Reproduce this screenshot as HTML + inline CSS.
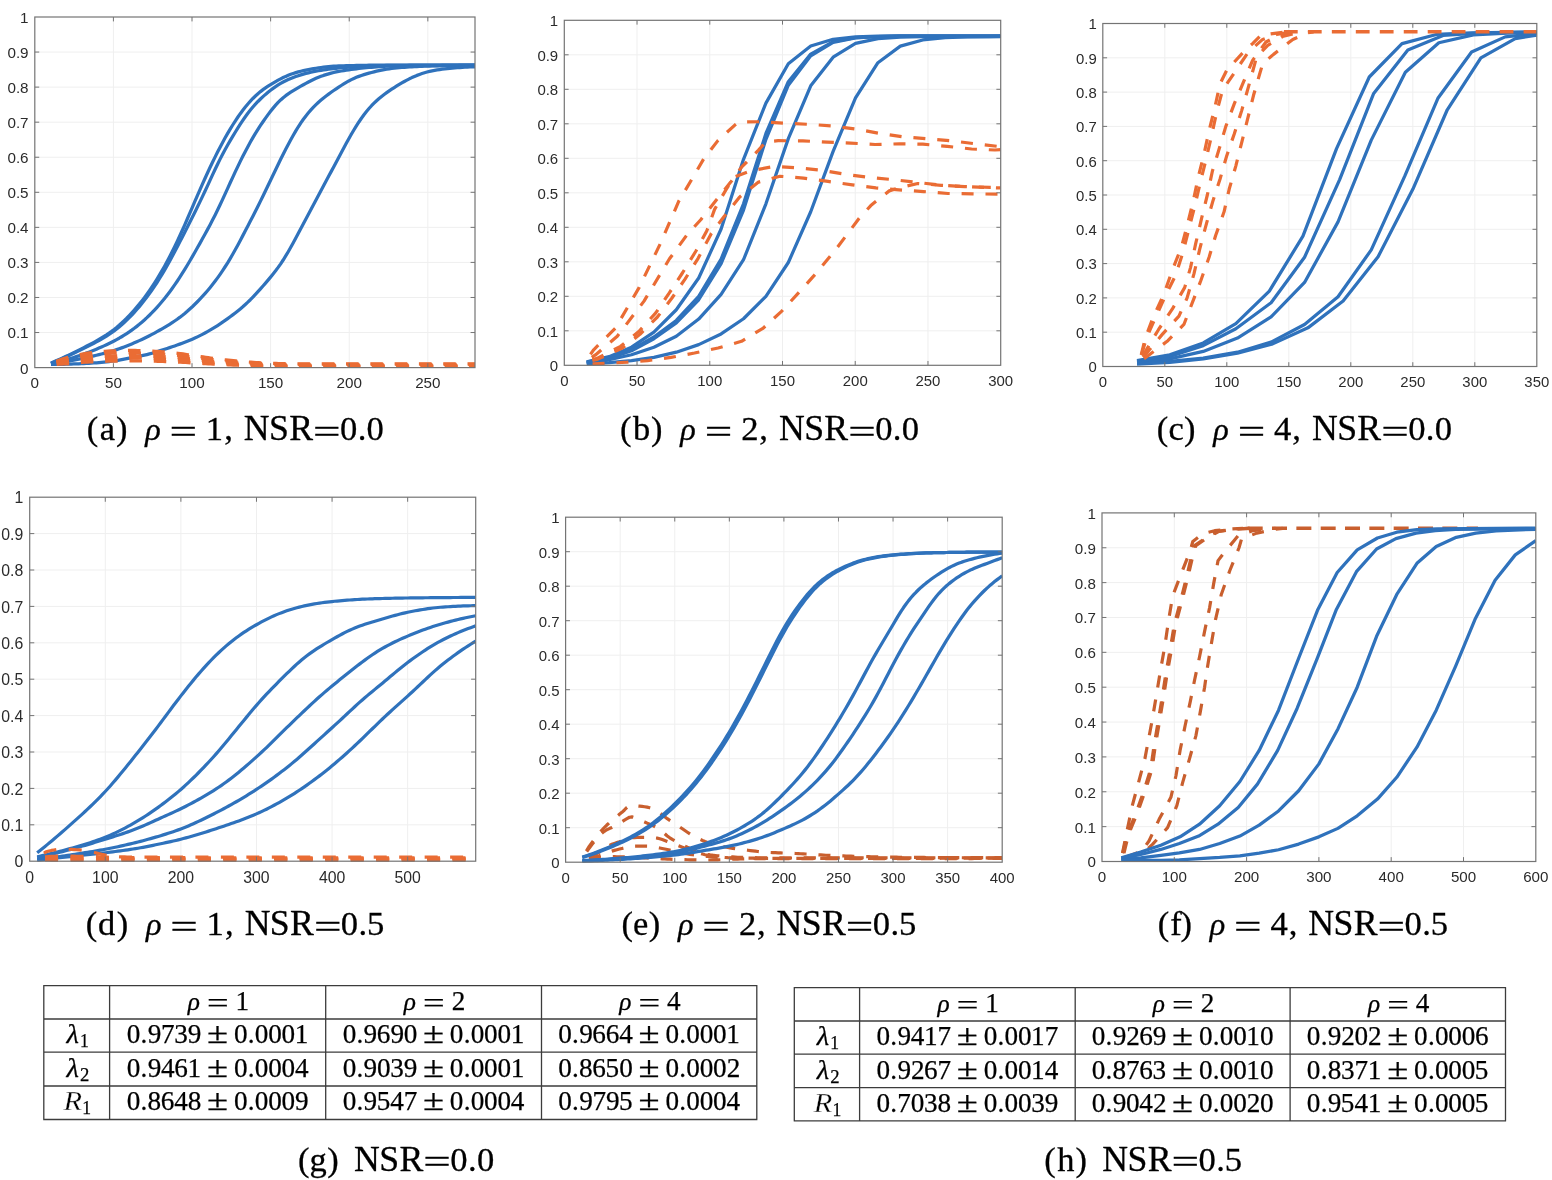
<!DOCTYPE html>
<html lang="en">
<head>
<meta charset="utf-8">
<style>
html,body{margin:0;padding:0;background:#fff;}
body{width:1552px;height:1180px;overflow:hidden;}
svg{display:block;}
text{white-space:pre;}
</style>
</head>
<body>
<svg width="1552" height="1180" viewBox="0 0 1552 1180">
<defs><clipPath id="clipa"><rect x="34.8" y="16" width="440.2" height="352.6"/></clipPath><clipPath id="clipb"><rect x="564.3" y="19.3" width="436.4" height="347"/></clipPath><clipPath id="clipc"><rect x="1102.8" y="22.5" width="434" height="345"/></clipPath><clipPath id="clipd"><rect x="29.7" y="496.2" width="446" height="366"/></clipPath><clipPath id="clipe"><rect x="565.6" y="516.2" width="436.6" height="347"/></clipPath><clipPath id="clipf"><rect x="1102" y="511.9" width="433.8" height="350.6"/></clipPath></defs>
<rect width="1552" height="1180" fill="#fff"/>
<g id="plot-a">
<path d="M113.41 17 V367.6 M192.01 17 V367.6 M270.62 17 V367.6 M349.23 17 V367.6 M427.84 17 V367.6 M34.8 332.54 H475 M34.8 297.48 H475 M34.8 262.42 H475 M34.8 227.36 H475 M34.8 192.3 H475 M34.8 157.24 H475 M34.8 122.18 H475 M34.8 87.12 H475 M34.8 52.06 H475" stroke="#efefef" stroke-width="1" fill="none"/>
<g clip-path="url(#clipa)">
<g fill="none" stroke="#2f72bc" stroke-width="3.25" stroke-linejoin="round"><path d="M50.99 363.04 L53.52 361.95 L56.04 360.86 L58.56 359.75 L61.09 358.62 L63.61 357.47 L66.14 356.3 L68.66 355.11 L71.18 353.9 L73.71 352.67 L76.23 351.43 L78.76 350.17 L81.28 348.9 L83.8 347.61 L86.33 346.31 L88.85 345 L91.37 343.67 L93.9 342.31 L96.42 340.92 L98.95 339.49 L101.47 338.01 L103.99 336.46 L106.52 334.85 L109.04 333.15 L111.57 331.36 L114.09 329.46 L116.61 327.43 L119.14 325.29 L121.66 323.03 L124.18 320.65 L126.71 318.17 L129.23 315.58 L131.76 312.89 L134.28 310.09 L136.8 307.17 L139.33 304.13 L141.85 300.96 L144.38 297.67 L146.9 294.24 L149.42 290.68 L151.95 286.97 L154.47 283.12 L156.99 279.12 L159.52 274.97 L162.04 270.66 L164.57 266.2 L167.09 261.58 L169.61 256.79 L172.14 251.84 L174.66 246.73 L177.19 241.47 L179.71 236.05 L182.23 230.48 L184.76 224.79 L187.28 218.99 L189.8 213.14 L192.33 207.27 L194.85 201.4 L197.38 195.57 L199.9 189.79 L202.42 184.08 L204.95 178.46 L207.47 172.95 L210 167.55 L212.52 162.27 L215.04 157.12 L217.57 152.09 L220.09 147.2 L222.61 142.44 L225.14 137.84 L227.66 133.39 L230.19 129.11 L232.71 124.99 L235.23 121.04 L237.76 117.27 L240.28 113.68 L242.81 110.27 L245.33 107.05 L247.85 104.01 L250.38 101.16 L252.9 98.49 L255.42 96.01 L257.95 93.72 L260.47 91.61 L263 89.66 L265.52 87.86 L268.04 86.18 L270.57 84.58 L273.09 83.06 L275.62 81.6 L278.14 80.19 L280.66 78.84 L283.19 77.57 L285.71 76.39 L288.24 75.3 L290.76 74.32 L293.28 73.43 L295.81 72.63 L298.33 71.91 L300.85 71.26 L303.38 70.67 L305.9 70.12 L308.43 69.61 L310.95 69.13 L313.47 68.68 L316 68.26 L318.52 67.86 L321.05 67.49 L323.57 67.16 L326.09 66.86 L328.62 66.61 L331.14 66.4 L333.66 66.23 L336.19 66.09 L338.71 65.98 L341.24 65.88 L343.76 65.79 L346.28 65.72 L348.81 65.64 L351.33 65.57 L353.86 65.51 L356.38 65.45 L358.9 65.39 L361.43 65.34 L363.95 65.29 L366.47 65.25 L369 65.21 L371.52 65.17 L374.05 65.14 L376.57 65.11 L379.09 65.09 L381.62 65.07 L384.14 65.06 L386.67 65.05 L389.19 65.04 L391.71 65.04 L394.24 65.03 L396.76 65.03 L399.28 65.03 L401.81 65.03 L404.33 65.03 L406.86 65.03 L409.38 65.03 L411.9 65.03 L414.43 65.03 L416.95 65.03 L419.48 65.03 L422 65.03 L424.52 65.03 L427.05 65.03 L429.57 65.03 L432.09 65.03 L434.62 65.03 L437.14 65.03 L439.67 65.03 L442.19 65.03 L444.71 65.03 L447.24 65.03 L449.76 65.03 L452.29 65.03 L454.81 65.03 L457.33 65.03 L459.86 65.03 L462.38 65.03 L464.9 65.03 L467.43 65.03 L469.95 65.03 L472.48 65.03 L475 65.03"/><path d="M50.99 363.39 L53.52 362.33 L56.04 361.25 L58.56 360.17 L61.09 359.06 L63.61 357.94 L66.14 356.8 L68.66 355.65 L71.18 354.47 L73.71 353.28 L76.23 352.07 L78.76 350.85 L81.28 349.62 L83.8 348.37 L86.33 347.12 L88.85 345.86 L91.37 344.58 L93.9 343.27 L96.42 341.93 L98.95 340.56 L101.47 339.13 L103.99 337.65 L106.52 336.1 L109.04 334.48 L111.57 332.75 L114.09 330.93 L116.61 328.99 L119.14 326.94 L121.66 324.77 L124.18 322.49 L126.71 320.11 L129.23 317.62 L131.76 315.03 L134.28 312.33 L136.8 309.52 L139.33 306.58 L141.85 303.53 L144.38 300.35 L146.9 297.04 L149.42 293.61 L151.95 290.04 L154.47 286.33 L156.99 282.49 L159.52 278.5 L162.04 274.38 L164.57 270.12 L167.09 265.72 L169.61 261.19 L172.14 256.54 L174.66 251.79 L177.19 246.98 L179.71 242.11 L182.23 237.22 L184.76 232.29 L187.28 227.33 L189.8 222.34 L192.33 217.3 L194.85 212.21 L197.38 207.07 L199.9 201.86 L202.42 196.59 L204.95 191.24 L207.47 185.82 L210 180.35 L212.52 174.88 L215.04 169.48 L217.57 164.21 L220.09 159.12 L222.61 154.24 L225.14 149.55 L227.66 145.04 L230.19 140.66 L232.71 136.4 L235.23 132.24 L237.76 128.17 L240.28 124.22 L242.81 120.4 L245.33 116.74 L247.85 113.28 L250.38 110.03 L252.9 106.98 L255.42 104.14 L257.95 101.48 L260.47 98.98 L263 96.62 L265.52 94.39 L268.04 92.28 L270.57 90.27 L273.09 88.39 L275.62 86.62 L278.14 84.97 L280.66 83.45 L283.19 82.04 L285.71 80.75 L288.24 79.56 L290.76 78.47 L293.28 77.46 L295.81 76.53 L298.33 75.67 L300.85 74.87 L303.38 74.12 L305.9 73.44 L308.43 72.8 L310.95 72.22 L313.47 71.69 L316 71.2 L318.52 70.75 L321.05 70.33 L323.57 69.93 L326.09 69.55 L328.62 69.2 L331.14 68.87 L333.66 68.56 L336.19 68.27 L338.71 68 L341.24 67.75 L343.76 67.53 L346.28 67.33 L348.81 67.14 L351.33 66.97 L353.86 66.81 L356.38 66.65 L358.9 66.51 L361.43 66.37 L363.95 66.24 L366.47 66.12 L369 66 L371.52 65.89 L374.05 65.79 L376.57 65.7 L379.09 65.63 L381.62 65.56 L384.14 65.5 L386.67 65.45 L389.19 65.41 L391.71 65.38 L394.24 65.36 L396.76 65.33 L399.28 65.31 L401.81 65.29 L404.33 65.28 L406.86 65.26 L409.38 65.24 L411.9 65.23 L414.43 65.21 L416.95 65.2 L419.48 65.18 L422 65.17 L424.52 65.16 L427.05 65.15 L429.57 65.13 L432.09 65.12 L434.62 65.11 L437.14 65.1 L439.67 65.09 L442.19 65.09 L444.71 65.08 L447.24 65.07 L449.76 65.06 L452.29 65.06 L454.81 65.05 L457.33 65.05 L459.86 65.04 L462.38 65.04 L464.9 65.04 L467.43 65.04 L469.95 65.03 L472.48 65.03 L475 65.03"/><path d="M50.99 363.74 L53.52 363.12 L56.04 362.49 L58.56 361.85 L61.09 361.18 L63.61 360.48 L66.14 359.76 L68.66 359.02 L71.18 358.26 L73.71 357.47 L76.23 356.65 L78.76 355.82 L81.28 354.95 L83.8 354.07 L86.33 353.15 L88.85 352.2 L91.37 351.23 L93.9 350.22 L96.42 349.18 L98.95 348.11 L101.47 347.01 L103.99 345.88 L106.52 344.71 L109.04 343.5 L111.57 342.25 L114.09 340.96 L116.61 339.61 L119.14 338.21 L121.66 336.74 L124.18 335.21 L126.71 333.6 L129.23 331.92 L131.76 330.15 L134.28 328.3 L136.8 326.35 L139.33 324.31 L141.85 322.18 L144.38 319.96 L146.9 317.64 L149.42 315.21 L151.95 312.69 L154.47 310.06 L156.99 307.32 L159.52 304.47 L162.04 301.51 L164.57 298.43 L167.09 295.23 L169.61 291.91 L172.14 288.47 L174.66 284.9 L177.19 281.21 L179.71 277.41 L182.23 273.48 L184.76 269.43 L187.28 265.27 L189.8 261.01 L192.33 256.67 L194.85 252.27 L197.38 247.82 L199.9 243.34 L202.42 238.82 L204.95 234.26 L207.47 229.63 L210 224.93 L212.52 220.11 L215.04 215.17 L217.57 210.07 L220.09 204.81 L222.61 199.41 L225.14 193.9 L227.66 188.34 L230.19 182.8 L232.71 177.31 L235.23 171.9 L237.76 166.59 L240.28 161.39 L242.81 156.32 L245.33 151.4 L247.85 146.64 L250.38 142.05 L252.9 137.65 L255.42 133.42 L257.95 129.36 L260.47 125.47 L263 121.72 L265.52 118.11 L268.04 114.63 L270.57 111.3 L273.09 108.13 L275.62 105.16 L278.14 102.42 L280.66 99.92 L283.19 97.67 L285.71 95.65 L288.24 93.83 L290.76 92.15 L293.28 90.59 L295.81 89.09 L298.33 87.63 L300.85 86.19 L303.38 84.77 L305.9 83.37 L308.43 82.01 L310.95 80.71 L313.47 79.49 L316 78.35 L318.52 77.3 L321.05 76.32 L323.57 75.42 L326.09 74.6 L328.62 73.84 L331.14 73.15 L333.66 72.53 L336.19 71.96 L338.71 71.45 L341.24 70.98 L343.76 70.55 L346.28 70.15 L348.81 69.77 L351.33 69.42 L353.86 69.09 L356.38 68.78 L358.9 68.49 L361.43 68.22 L363.95 67.96 L366.47 67.72 L369 67.48 L371.52 67.26 L374.05 67.04 L376.57 66.85 L379.09 66.67 L381.62 66.51 L384.14 66.37 L386.67 66.25 L389.19 66.16 L391.71 66.09 L394.24 66.03 L396.76 65.98 L399.28 65.94 L401.81 65.9 L404.33 65.87 L406.86 65.83 L409.38 65.8 L411.9 65.77 L414.43 65.73 L416.95 65.71 L419.48 65.68 L422 65.65 L424.52 65.63 L427.05 65.6 L429.57 65.58 L432.09 65.56 L434.62 65.54 L437.14 65.52 L439.67 65.5 L442.19 65.49 L444.71 65.47 L447.24 65.46 L449.76 65.44 L452.29 65.43 L454.81 65.42 L457.33 65.41 L459.86 65.41 L462.38 65.4 L464.9 65.4 L467.43 65.39 L469.95 65.39 L472.48 65.38 L475 65.38"/><path d="M50.99 364.09 L53.52 363.69 L56.04 363.28 L58.56 362.87 L61.09 362.44 L63.61 362.01 L66.14 361.56 L68.66 361.1 L71.18 360.63 L73.71 360.14 L76.23 359.65 L78.76 359.14 L81.28 358.63 L83.8 358.1 L86.33 357.56 L88.85 357.01 L91.37 356.45 L93.9 355.87 L96.42 355.27 L98.95 354.66 L101.47 354.02 L103.99 353.37 L106.52 352.69 L109.04 351.98 L111.57 351.24 L114.09 350.46 L116.61 349.64 L119.14 348.78 L121.66 347.88 L124.18 346.95 L126.71 345.98 L129.23 344.98 L131.76 343.94 L134.28 342.87 L136.8 341.77 L139.33 340.64 L141.85 339.47 L144.38 338.26 L146.9 337.02 L149.42 335.74 L151.95 334.43 L154.47 333.08 L156.99 331.69 L159.52 330.27 L162.04 328.82 L164.57 327.34 L167.09 325.82 L169.61 324.27 L172.14 322.66 L174.66 321 L177.19 319.26 L179.71 317.43 L182.23 315.5 L184.76 313.47 L187.28 311.32 L189.8 309.07 L192.33 306.73 L194.85 304.29 L197.38 301.77 L199.9 299.16 L202.42 296.46 L204.95 293.65 L207.47 290.75 L210 287.72 L212.52 284.58 L215.04 281.3 L217.57 277.88 L220.09 274.32 L222.61 270.62 L225.14 266.76 L227.66 262.76 L230.19 258.59 L232.71 254.27 L235.23 249.79 L237.76 245.17 L240.28 240.44 L242.81 235.63 L245.33 230.79 L247.85 225.93 L250.38 221.06 L252.9 216.17 L255.42 211.23 L257.95 206.22 L260.47 201.13 L263 195.97 L265.52 190.75 L268.04 185.5 L270.57 180.22 L273.09 174.94 L275.62 169.68 L278.14 164.45 L280.66 159.28 L283.19 154.21 L285.71 149.26 L288.24 144.43 L290.76 139.75 L293.28 135.23 L295.81 130.89 L298.33 126.77 L300.85 122.89 L303.38 119.27 L305.9 115.91 L308.43 112.79 L310.95 109.88 L313.47 107.17 L316 104.64 L318.52 102.27 L321.05 100.04 L323.57 97.95 L326.09 95.97 L328.62 94.09 L331.14 92.28 L333.66 90.53 L336.19 88.82 L338.71 87.15 L341.24 85.51 L343.76 83.92 L346.28 82.39 L348.81 80.95 L351.33 79.63 L353.86 78.42 L356.38 77.33 L358.9 76.36 L361.43 75.47 L363.95 74.65 L366.47 73.89 L369 73.17 L371.52 72.49 L374.05 71.83 L376.57 71.2 L379.09 70.62 L381.62 70.08 L384.14 69.6 L386.67 69.17 L389.19 68.8 L391.71 68.47 L394.24 68.19 L396.76 67.93 L399.28 67.7 L401.81 67.49 L404.33 67.29 L406.86 67.11 L409.38 66.94 L411.9 66.79 L414.43 66.65 L416.95 66.52 L419.48 66.4 L422 66.3 L424.52 66.21 L427.05 66.13 L429.57 66.06 L432.09 65.99 L434.62 65.93 L437.14 65.87 L439.67 65.82 L442.19 65.76 L444.71 65.71 L447.24 65.67 L449.76 65.62 L452.29 65.58 L454.81 65.55 L457.33 65.51 L459.86 65.48 L462.38 65.46 L464.9 65.44 L467.43 65.42 L469.95 65.4 L472.48 65.39 L475 65.38"/><path d="M50.99 364.44 L53.52 364.42 L56.04 364.39 L58.56 364.35 L61.09 364.31 L63.61 364.26 L66.14 364.19 L68.66 364.13 L71.18 364.05 L73.71 363.97 L76.23 363.88 L78.76 363.78 L81.28 363.68 L83.8 363.57 L86.33 363.44 L88.85 363.3 L91.37 363.14 L93.9 362.97 L96.42 362.78 L98.95 362.57 L101.47 362.35 L103.99 362.12 L106.52 361.86 L109.04 361.58 L111.57 361.26 L114.09 360.91 L116.61 360.52 L119.14 360.08 L121.66 359.61 L124.18 359.12 L126.71 358.62 L129.23 358.13 L131.76 357.64 L134.28 357.16 L136.8 356.68 L139.33 356.19 L141.85 355.69 L144.38 355.15 L146.9 354.56 L149.42 353.92 L151.95 353.23 L154.47 352.49 L156.99 351.71 L159.52 350.91 L162.04 350.09 L164.57 349.27 L167.09 348.44 L169.61 347.61 L172.14 346.77 L174.66 345.92 L177.19 345.05 L179.71 344.15 L182.23 343.22 L184.76 342.26 L187.28 341.27 L189.8 340.24 L192.33 339.16 L194.85 338.04 L197.38 336.87 L199.9 335.65 L202.42 334.37 L204.95 333.03 L207.47 331.64 L210 330.19 L212.52 328.7 L215.04 327.15 L217.57 325.55 L220.09 323.9 L222.61 322.2 L225.14 320.44 L227.66 318.64 L230.19 316.8 L232.71 314.9 L235.23 312.96 L237.76 310.96 L240.28 308.9 L242.81 306.75 L245.33 304.51 L247.85 302.17 L250.38 299.71 L252.9 297.14 L255.42 294.47 L257.95 291.71 L260.47 288.88 L263 286 L265.52 283.08 L268.04 280.12 L270.57 277.1 L273.09 274 L275.62 270.77 L278.14 267.39 L280.66 263.82 L283.19 260.02 L285.71 255.98 L288.24 251.72 L290.76 247.28 L293.28 242.68 L295.81 238 L298.33 233.27 L300.85 228.53 L303.38 223.78 L305.9 219.05 L308.43 214.32 L310.95 209.58 L313.47 204.84 L316 200.1 L318.52 195.35 L321.05 190.6 L323.57 185.85 L326.09 181.11 L328.62 176.36 L331.14 171.63 L333.66 166.9 L336.19 162.17 L338.71 157.45 L341.24 152.73 L343.76 148.02 L346.28 143.35 L348.81 138.75 L351.33 134.28 L353.86 129.97 L356.38 125.86 L358.9 121.97 L361.43 118.28 L363.95 114.82 L366.47 111.57 L369 108.53 L371.52 105.72 L374.05 103.12 L376.57 100.71 L379.09 98.5 L381.62 96.43 L384.14 94.49 L386.67 92.66 L389.19 90.91 L391.71 89.22 L394.24 87.58 L396.76 85.98 L399.28 84.43 L401.81 82.93 L404.33 81.49 L406.86 80.12 L409.38 78.82 L411.9 77.6 L414.43 76.46 L416.95 75.39 L419.48 74.41 L422 73.51 L424.52 72.7 L427.05 71.99 L429.57 71.37 L432.09 70.83 L434.62 70.36 L437.14 69.94 L439.67 69.56 L442.19 69.22 L444.71 68.92 L447.24 68.64 L449.76 68.39 L452.29 68.16 L454.81 67.94 L457.33 67.75 L459.86 67.56 L462.38 67.4 L464.9 67.24 L467.43 67.11 L469.95 66.99 L472.48 66.88 L475 66.79"/></g>
<g fill="none" stroke="#ea6c34" stroke-width="3.2" stroke-linejoin="round" stroke-dasharray="12.5 11.8" stroke-dashoffset="19.7"><path d="M52.09 363.04 L54.61 361.98 L57.13 360.96 L59.65 360 L62.16 359.1 L64.68 358.3 L67.2 357.58 L69.71 356.91 L72.23 356.26 L74.75 355.65 L77.27 355.07 L79.78 354.53 L82.3 354.03 L84.82 353.58 L87.34 353.18 L89.85 352.85 L92.37 352.55 L94.89 352.26 L97.4 351.99 L99.92 351.73 L102.44 351.5 L104.96 351.3 L107.47 351.12 L109.99 350.97 L112.51 350.86 L115.03 350.77 L117.54 350.69 L120.06 350.62 L122.58 350.55 L125.1 350.5 L127.61 350.45 L130.13 350.43 L132.65 350.42 L135.16 350.44 L137.68 350.49 L140.2 350.56 L142.72 350.65 L145.23 350.75 L147.75 350.86 L150.27 350.98 L152.79 351.1 L155.3 351.23 L157.82 351.39 L160.34 351.58 L162.85 351.79 L165.37 352.01 L167.89 352.25 L170.41 352.5 L172.92 352.76 L175.44 353.03 L177.96 353.31 L180.48 353.62 L182.99 353.96 L185.51 354.33 L188.03 354.71 L190.55 355.1 L193.06 355.49 L195.58 355.87 L198.1 356.24 L200.61 356.6 L203.13 356.94 L205.65 357.29 L208.17 357.64 L210.68 357.99 L213.2 358.33 L215.72 358.66 L218.24 358.98 L220.75 359.29 L223.27 359.58 L225.79 359.86 L228.3 360.14 L230.82 360.41 L233.34 360.67 L235.86 360.92 L238.37 361.17 L240.89 361.4 L243.41 361.61 L245.93 361.81 L248.44 361.99 L250.96 362.17 L253.48 362.35 L255.99 362.51 L258.51 362.67 L261.03 362.81 L263.55 362.95 L266.06 363.07 L268.58 363.17 L271.1 363.26 L273.62 363.34 L276.13 363.42 L278.65 363.5 L281.17 363.57 L283.69 363.64 L286.2 363.7 L288.72 363.76 L291.24 363.81 L293.75 363.85 L296.27 363.89 L298.79 363.91 L301.31 363.92 L303.82 363.92 L306.34 363.92 L308.86 363.92 L311.38 363.92 L313.89 363.92 L316.41 363.92 L318.93 363.92 L321.44 363.92 L323.96 363.92 L326.48 363.92 L329 363.92 L331.51 363.92 L334.03 363.92 L336.55 363.92 L339.07 363.92 L341.58 363.92 L344.1 363.92 L346.62 363.92 L349.13 363.92 L351.65 363.92 L354.17 363.92 L356.69 363.92 L359.2 363.92 L361.72 363.92 L364.24 363.92 L366.76 363.92 L369.27 363.92 L371.79 363.92 L374.31 363.92 L376.83 363.92 L379.34 363.92 L381.86 363.92 L384.38 363.92 L386.89 363.92 L389.41 363.92 L391.93 363.92 L394.45 363.92 L396.96 363.92 L399.48 363.92 L402 363.92 L404.52 363.92 L407.03 363.92 L409.55 363.92 L412.07 363.92 L414.58 363.92 L417.1 363.92 L419.62 363.92 L422.14 363.92 L424.65 363.92 L427.17 363.92 L429.69 363.92 L432.21 363.92 L434.72 363.92 L437.24 363.92 L439.76 363.92 L442.28 363.92 L444.79 363.92 L447.31 363.92 L449.83 363.92 L452.34 363.92 L454.86 363.92 L457.38 363.92 L459.9 363.92 L462.41 363.92 L464.93 363.92 L467.45 363.92 L469.97 363.92 L472.48 363.92 L475 363.92"/><path d="M52.09 363.39 L54.61 362.56 L57.13 361.75 L59.65 360.98 L62.16 360.27 L64.68 359.61 L67.2 359.02 L69.71 358.45 L72.23 357.91 L74.75 357.38 L77.27 356.88 L79.78 356.41 L82.3 355.98 L84.82 355.59 L87.34 355.25 L89.85 354.95 L92.37 354.7 L94.89 354.45 L97.4 354.22 L99.92 354 L102.44 353.8 L104.96 353.63 L107.47 353.47 L109.99 353.35 L112.51 353.25 L115.03 353.18 L117.54 353.11 L120.06 353.04 L122.58 352.99 L125.1 352.94 L127.61 352.9 L130.13 352.88 L132.65 352.88 L135.16 352.89 L137.68 352.93 L140.2 352.99 L142.72 353.07 L145.23 353.16 L147.75 353.25 L150.27 353.35 L152.79 353.46 L155.3 353.57 L157.82 353.71 L160.34 353.87 L162.85 354.04 L165.37 354.24 L167.89 354.44 L170.41 354.66 L172.92 354.88 L175.44 355.11 L177.96 355.35 L180.48 355.62 L182.99 355.91 L185.51 356.23 L188.03 356.55 L190.55 356.89 L193.06 357.22 L195.58 357.55 L198.1 357.87 L200.61 358.17 L203.13 358.47 L205.65 358.77 L208.17 359.07 L210.68 359.36 L213.2 359.65 L215.72 359.94 L218.24 360.21 L220.75 360.47 L223.27 360.72 L225.79 360.96 L228.3 361.2 L230.82 361.43 L233.34 361.66 L235.86 361.88 L238.37 362.09 L240.89 362.28 L243.41 362.47 L245.93 362.64 L248.44 362.8 L250.96 362.95 L253.48 363.1 L255.99 363.24 L258.51 363.37 L261.03 363.5 L263.55 363.61 L266.06 363.72 L268.58 363.81 L271.1 363.88 L273.62 363.95 L276.13 364.02 L278.65 364.08 L281.17 364.15 L283.69 364.2 L286.2 364.26 L288.72 364.31 L291.24 364.35 L293.75 364.39 L296.27 364.42 L298.79 364.44 L301.31 364.44 L303.82 364.44 L306.34 364.44 L308.86 364.44 L311.38 364.44 L313.89 364.44 L316.41 364.44 L318.93 364.44 L321.44 364.44 L323.96 364.44 L326.48 364.44 L329 364.44 L331.51 364.44 L334.03 364.44 L336.55 364.44 L339.07 364.44 L341.58 364.44 L344.1 364.44 L346.62 364.44 L349.13 364.44 L351.65 364.44 L354.17 364.44 L356.69 364.44 L359.2 364.44 L361.72 364.44 L364.24 364.44 L366.76 364.44 L369.27 364.44 L371.79 364.44 L374.31 364.44 L376.83 364.44 L379.34 364.44 L381.86 364.44 L384.38 364.44 L386.89 364.44 L389.41 364.44 L391.93 364.44 L394.45 364.44 L396.96 364.44 L399.48 364.44 L402 364.44 L404.52 364.44 L407.03 364.44 L409.55 364.44 L412.07 364.44 L414.58 364.44 L417.1 364.44 L419.62 364.44 L422.14 364.44 L424.65 364.44 L427.17 364.44 L429.69 364.44 L432.21 364.44 L434.72 364.44 L437.24 364.44 L439.76 364.44 L442.28 364.44 L444.79 364.44 L447.31 364.44 L449.83 364.44 L452.34 364.44 L454.86 364.44 L457.38 364.44 L459.9 364.44 L462.41 364.44 L464.93 364.44 L467.45 364.44 L469.97 364.44 L472.48 364.44 L475 364.44"/><path d="M52.09 363.74 L54.61 363.19 L57.13 362.65 L59.65 362.13 L62.16 361.63 L64.68 361.16 L67.2 360.72 L69.71 360.28 L72.23 359.84 L74.75 359.41 L77.27 359 L79.78 358.61 L82.3 358.24 L84.82 357.91 L87.34 357.62 L89.85 357.38 L92.37 357.17 L94.89 356.97 L97.4 356.78 L99.92 356.6 L102.44 356.44 L104.96 356.3 L107.47 356.17 L109.99 356.07 L112.51 355.99 L115.03 355.93 L117.54 355.87 L120.06 355.82 L122.58 355.77 L125.1 355.73 L127.61 355.7 L130.13 355.68 L132.65 355.68 L135.16 355.69 L137.68 355.73 L140.2 355.78 L142.72 355.84 L145.23 355.91 L147.75 355.99 L150.27 356.07 L152.79 356.16 L155.3 356.25 L157.82 356.36 L160.34 356.49 L162.85 356.64 L165.37 356.79 L167.89 356.96 L170.41 357.14 L172.92 357.32 L175.44 357.51 L177.96 357.7 L180.48 357.92 L182.99 358.16 L185.51 358.42 L188.03 358.69 L190.55 358.96 L193.06 359.24 L195.58 359.5 L198.1 359.76 L200.61 360.01 L203.13 360.25 L205.65 360.5 L208.17 360.74 L210.68 360.99 L213.2 361.22 L215.72 361.46 L218.24 361.68 L220.75 361.9 L223.27 362.1 L225.79 362.3 L228.3 362.49 L230.82 362.68 L233.34 362.87 L235.86 363.05 L238.37 363.22 L240.89 363.38 L243.41 363.53 L245.93 363.67 L248.44 363.8 L250.96 363.92 L253.48 364.04 L255.99 364.16 L258.51 364.27 L261.03 364.37 L263.55 364.47 L266.06 364.55 L268.58 364.62 L271.1 364.68 L273.62 364.74 L276.13 364.79 L278.65 364.85 L281.17 364.9 L283.69 364.95 L286.2 364.99 L288.72 365.04 L291.24 365.07 L293.75 365.1 L296.27 365.12 L298.79 365.14 L301.31 365.15 L303.82 365.15 L306.34 365.15 L308.86 365.15 L311.38 365.15 L313.89 365.15 L316.41 365.15 L318.93 365.15 L321.44 365.15 L323.96 365.15 L326.48 365.15 L329 365.15 L331.51 365.15 L334.03 365.15 L336.55 365.15 L339.07 365.15 L341.58 365.15 L344.1 365.15 L346.62 365.15 L349.13 365.15 L351.65 365.15 L354.17 365.15 L356.69 365.15 L359.2 365.15 L361.72 365.15 L364.24 365.15 L366.76 365.15 L369.27 365.15 L371.79 365.15 L374.31 365.15 L376.83 365.15 L379.34 365.15 L381.86 365.15 L384.38 365.15 L386.89 365.15 L389.41 365.15 L391.93 365.15 L394.45 365.15 L396.96 365.15 L399.48 365.15 L402 365.15 L404.52 365.15 L407.03 365.15 L409.55 365.15 L412.07 365.15 L414.58 365.15 L417.1 365.15 L419.62 365.15 L422.14 365.15 L424.65 365.15 L427.17 365.15 L429.69 365.15 L432.21 365.15 L434.72 365.15 L437.24 365.15 L439.76 365.15 L442.28 365.15 L444.79 365.15 L447.31 365.15 L449.83 365.15 L452.34 365.15 L454.86 365.15 L457.38 365.15 L459.9 365.15 L462.41 365.15 L464.93 365.15 L467.45 365.15 L469.97 365.15 L472.48 365.15 L475 365.15"/><path d="M52.09 364.09 L54.61 363.79 L57.13 363.48 L59.65 363.18 L62.16 362.87 L64.68 362.57 L67.2 362.26 L69.71 361.93 L72.23 361.59 L74.75 361.25 L77.27 360.9 L79.78 360.57 L82.3 360.25 L84.82 359.97 L87.34 359.72 L89.85 359.52 L92.37 359.35 L94.89 359.18 L97.4 359.03 L99.92 358.88 L102.44 358.75 L104.96 358.64 L107.47 358.53 L109.99 358.45 L112.51 358.38 L115.03 358.33 L117.54 358.29 L120.06 358.25 L122.58 358.21 L125.1 358.18 L127.61 358.15 L130.13 358.14 L132.65 358.13 L135.16 358.15 L137.68 358.17 L140.2 358.21 L142.72 358.26 L145.23 358.32 L147.75 358.39 L150.27 358.45 L152.79 358.52 L155.3 358.6 L157.82 358.69 L160.34 358.8 L162.85 358.91 L165.37 359.04 L167.89 359.18 L170.41 359.32 L172.92 359.47 L175.44 359.62 L177.96 359.78 L180.48 359.96 L182.99 360.16 L185.51 360.37 L188.03 360.59 L190.55 360.81 L193.06 361.03 L195.58 361.25 L198.1 361.46 L200.61 361.66 L203.13 361.86 L205.65 362.06 L208.17 362.26 L210.68 362.46 L213.2 362.65 L215.72 362.84 L218.24 363.02 L220.75 363.2 L223.27 363.37 L225.79 363.53 L228.3 363.69 L230.82 363.84 L233.34 363.99 L235.86 364.14 L238.37 364.27 L240.89 364.41 L243.41 364.53 L245.93 364.64 L248.44 364.75 L250.96 364.85 L253.48 364.95 L255.99 365.04 L258.51 365.13 L261.03 365.22 L263.55 365.29 L266.06 365.36 L268.58 365.42 L271.1 365.47 L273.62 365.52 L276.13 365.56 L278.65 365.61 L281.17 365.65 L283.69 365.69 L286.2 365.72 L288.72 365.76 L291.24 365.79 L293.75 365.81 L296.27 365.83 L298.79 365.84 L301.31 365.85 L303.82 365.85 L306.34 365.85 L308.86 365.85 L311.38 365.85 L313.89 365.85 L316.41 365.85 L318.93 365.85 L321.44 365.85 L323.96 365.85 L326.48 365.85 L329 365.85 L331.51 365.85 L334.03 365.85 L336.55 365.85 L339.07 365.85 L341.58 365.85 L344.1 365.85 L346.62 365.85 L349.13 365.85 L351.65 365.85 L354.17 365.85 L356.69 365.85 L359.2 365.85 L361.72 365.85 L364.24 365.85 L366.76 365.85 L369.27 365.85 L371.79 365.85 L374.31 365.85 L376.83 365.85 L379.34 365.85 L381.86 365.85 L384.38 365.85 L386.89 365.85 L389.41 365.85 L391.93 365.85 L394.45 365.85 L396.96 365.85 L399.48 365.85 L402 365.85 L404.52 365.85 L407.03 365.85 L409.55 365.85 L412.07 365.85 L414.58 365.85 L417.1 365.85 L419.62 365.85 L422.14 365.85 L424.65 365.85 L427.17 365.85 L429.69 365.85 L432.21 365.85 L434.72 365.85 L437.24 365.85 L439.76 365.85 L442.28 365.85 L444.79 365.85 L447.31 365.85 L449.83 365.85 L452.34 365.85 L454.86 365.85 L457.38 365.85 L459.9 365.85 L462.41 365.85 L464.93 365.85 L467.45 365.85 L469.97 365.85 L472.48 365.85 L475 365.85"/><path d="M52.09 364.44 L54.61 364.39 L57.13 364.31 L59.65 364.22 L62.16 364.12 L64.68 364 L67.2 363.88 L69.71 363.71 L72.23 363.5 L74.75 363.26 L77.27 363 L79.78 362.74 L82.3 362.49 L84.82 362.26 L87.34 362.07 L89.85 361.92 L92.37 361.79 L94.89 361.68 L97.4 361.57 L99.92 361.47 L102.44 361.37 L104.96 361.29 L107.47 361.22 L109.99 361.16 L112.51 361.11 L115.03 361.08 L117.54 361.05 L120.06 361.02 L122.58 360.99 L125.1 360.97 L127.61 360.95 L130.13 360.94 L132.65 360.94 L135.16 360.95 L137.68 360.97 L140.2 360.99 L142.72 361.03 L145.23 361.07 L147.75 361.12 L150.27 361.16 L152.79 361.21 L155.3 361.27 L157.82 361.33 L160.34 361.41 L162.85 361.49 L165.37 361.58 L167.89 361.67 L170.41 361.78 L172.92 361.88 L175.44 361.99 L177.96 362.1 L180.48 362.23 L182.99 362.37 L185.51 362.51 L188.03 362.67 L190.55 362.82 L193.06 362.98 L195.58 363.13 L198.1 363.28 L200.61 363.42 L203.13 363.57 L205.65 363.71 L208.17 363.85 L210.68 363.99 L213.2 364.12 L215.72 364.26 L218.24 364.38 L220.75 364.51 L223.27 364.63 L225.79 364.74 L228.3 364.85 L230.82 364.96 L233.34 365.07 L235.86 365.17 L238.37 365.27 L240.89 365.36 L243.41 365.44 L245.93 365.52 L248.44 365.6 L250.96 365.67 L253.48 365.74 L255.99 365.81 L258.51 365.87 L261.03 365.93 L263.55 365.98 L266.06 366.03 L268.58 366.07 L271.1 366.11 L273.62 366.14 L276.13 366.17 L278.65 366.2 L281.17 366.23 L283.69 366.26 L286.2 366.29 L288.72 366.31 L291.24 366.33 L293.75 366.35 L296.27 366.36 L298.79 366.37 L301.31 366.37 L303.82 366.37 L306.34 366.37 L308.86 366.37 L311.38 366.37 L313.89 366.37 L316.41 366.37 L318.93 366.37 L321.44 366.37 L323.96 366.37 L326.48 366.37 L329 366.37 L331.51 366.37 L334.03 366.37 L336.55 366.37 L339.07 366.37 L341.58 366.37 L344.1 366.37 L346.62 366.37 L349.13 366.37 L351.65 366.37 L354.17 366.37 L356.69 366.37 L359.2 366.37 L361.72 366.37 L364.24 366.37 L366.76 366.37 L369.27 366.37 L371.79 366.37 L374.31 366.37 L376.83 366.37 L379.34 366.37 L381.86 366.37 L384.38 366.37 L386.89 366.37 L389.41 366.37 L391.93 366.37 L394.45 366.37 L396.96 366.37 L399.48 366.37 L402 366.37 L404.52 366.37 L407.03 366.37 L409.55 366.37 L412.07 366.37 L414.58 366.37 L417.1 366.37 L419.62 366.37 L422.14 366.37 L424.65 366.37 L427.17 366.37 L429.69 366.37 L432.21 366.37 L434.72 366.37 L437.24 366.37 L439.76 366.37 L442.28 366.37 L444.79 366.37 L447.31 366.37 L449.83 366.37 L452.34 366.37 L454.86 366.37 L457.38 366.37 L459.9 366.37 L462.41 366.37 L464.93 366.37 L467.45 366.37 L469.97 366.37 L472.48 366.37 L475 366.37"/></g>
</g>
<path d="M113.41 367.6 v-4.41 M113.41 17 v4.41 M192.01 367.6 v-4.41 M192.01 17 v4.41 M270.62 367.6 v-4.41 M270.62 17 v4.41 M349.23 367.6 v-4.41 M349.23 17 v4.41 M427.84 367.6 v-4.41 M427.84 17 v4.41 M34.8 332.54 h4.41 M475 332.54 h-4.41 M34.8 297.48 h4.41 M475 297.48 h-4.41 M34.8 262.42 h4.41 M475 262.42 h-4.41 M34.8 227.36 h4.41 M475 227.36 h-4.41 M34.8 192.3 h4.41 M475 192.3 h-4.41 M34.8 157.24 h4.41 M475 157.24 h-4.41 M34.8 122.18 h4.41 M475 122.18 h-4.41 M34.8 87.12 h4.41 M475 87.12 h-4.41 M34.8 52.06 h4.41 M475 52.06 h-4.41" stroke="#747474" stroke-width="1" fill="none"/>
<rect x="34.8" y="17" width="440.2" height="350.6" fill="none" stroke="#747474" stroke-width="1.2"/>
<g font-family="'Liberation Sans', Arial, Helvetica, sans-serif" font-size="15.23" fill="#2b2b2b">
<g text-anchor="end">
<text x="28.59" y="373.53">0</text>
<text x="28.59" y="338.47">0.1</text>
<text x="28.59" y="303.41">0.2</text>
<text x="28.59" y="268.35">0.3</text>
<text x="28.59" y="233.29">0.4</text>
<text x="28.59" y="198.23">0.5</text>
<text x="28.59" y="163.17">0.6</text>
<text x="28.59" y="128.11">0.7</text>
<text x="28.59" y="93.05">0.8</text>
<text x="28.59" y="57.99">0.9</text>
<text x="28.59" y="22.93">1</text>
</g><g text-anchor="middle">
<text x="34.8" y="388.24">0</text>
<text x="113.41" y="388.24">50</text>
<text x="192.01" y="388.24">100</text>
<text x="270.62" y="388.24">150</text>
<text x="349.23" y="388.24">200</text>
<text x="427.84" y="388.24">250</text>
</g></g>
</g>
<g id="plot-b">
<path d="M637.03 20.3 V365.3 M709.77 20.3 V365.3 M782.5 20.3 V365.3 M855.23 20.3 V365.3 M927.97 20.3 V365.3 M564.3 330.8 H1000.7 M564.3 296.3 H1000.7 M564.3 261.8 H1000.7 M564.3 227.3 H1000.7 M564.3 192.8 H1000.7 M564.3 158.3 H1000.7 M564.3 123.8 H1000.7 M564.3 89.3 H1000.7 M564.3 54.8 H1000.7" stroke="#efefef" stroke-width="1" fill="none"/>
<g clip-path="url(#clipb)">
<g fill="none" stroke="#2f72bc" stroke-width="3.25" stroke-linejoin="round"><path d="M586.7 361.85 L609.1 356.68 L631.51 347.19 L653.91 332.18 L676.31 309.75 L698.71 278.01 L721.11 229.03 L743.51 159.34 L765.92 103.1 L788.32 63.77 L810.72 46 L833.12 39.28 L855.52 36.86 L877.93 36.17 L900.33 35.83 L922.73 35.83 L945.13 35.83 L967.53 35.83 L989.94 35.83 L1000.7 35.83"/><path d="M586.7 362.19 L609.1 357.71 L631.51 349.78 L653.91 337.01 L676.31 320.45 L698.71 296.3 L721.11 259.04 L743.51 203.84 L765.92 133.46 L788.32 81.71 L810.72 54.11 L833.12 41.69 L855.52 37.55 L877.93 36.52 L900.33 36.17 L922.73 36.17 L945.13 36.17 L967.53 36.17 L989.94 36.17 L1000.7 36.17"/><path d="M586.7 362.54 L609.1 358.4 L631.51 350.81 L653.91 338.74 L676.31 322.87 L698.71 299.75 L721.11 263.53 L743.51 210.05 L765.92 139.32 L788.32 85.16 L810.72 55.83 L833.12 42.38 L855.52 37.9 L877.93 36.52 L900.33 36.17 L922.73 36.17 L945.13 36.17 L967.53 36.17 L989.94 36.17 L1000.7 36.17"/><path d="M586.7 363.23 L609.1 359.78 L631.51 354.74 L653.91 347.19 L676.31 336.32 L698.71 319.07 L721.11 294.37 L743.51 259.73 L765.92 203.84 L788.32 138.63 L810.72 85.85 L833.12 57.22 L855.52 43.42 L877.93 38.59 L900.33 37.21 L922.73 36.52 L945.13 36.52 L967.53 36.52 L989.94 36.52 L1000.7 36.52"/><path d="M586.7 363.92 L609.1 362.54 L631.51 360.61 L653.91 357.37 L676.31 352.19 L698.71 344.6 L721.11 333.91 L743.51 318.73 L765.92 296.3 L788.32 262.49 L810.72 211.78 L833.12 151.4 L855.52 97.93 L877.93 62.74 L900.33 46.18 L922.73 39.97 L945.13 37.55 L967.53 36.76 L989.94 36.52 L1000.7 36.41"/></g>
<g fill="none" stroke="#ea6c34" stroke-width="3.2" stroke-linejoin="round" stroke-dasharray="12 11.9" stroke-dashoffset="18.9"><path d="M587.57 358.4 L593.68 349.78 L615.5 328.04 L639.07 287.68 L660.89 242.48 L678.78 201.18 L691.58 179.69 L703.66 158.99 L718.06 140.36 L735.37 124.63 L738.86 122.08 L759.66 121.73 L783.95 123.11 L806.94 124.25 L831.67 125.87 L855.23 128.97 L879.24 133.29 L903.53 136.91 L926.95 138.81 L951.24 140.84 L975.68 143.81 L1000.7 146.71"/><path d="M587.57 360.12 L595.43 354.95 L617.25 336.32 L644.02 301.13 L669.33 259.04 L686.93 234.89 L700.75 219.71 L715.73 200.74 L730.71 182.1 L741.77 166.93 L758.5 150.12 L765.92 141.74 L778.14 140.71 L802.87 140.84 L827.16 142.19 L850.58 143.12 L875.02 144.5 L899.31 143.81 L922.88 144.16 L947.17 146.36 L971.61 148.99 L994.88 150.02 L1000.7 149.68"/><path d="M587.57 361.16 L597.03 358.4 L620.6 346.32 L639.07 331.25 L655.8 312.86 L669.33 292.85 L682.71 272.5 L696.09 250.76 L706.86 230.75 L714.57 209.36 L726.2 189.35 L734.21 176.93 L751.22 170.72 L774.64 166.37 L798.36 167.96 L821.78 170.2 L846.51 174.51 L870.36 177.45 L894.22 179.79 L917.78 182.45 L941.35 185.31 L964.77 186.59 L989.94 187.62 L1000.7 187.97"/><path d="M587.57 361.85 L597.76 359.09 L622.49 348.05 L639.94 334.25 L657.4 317 L671.95 298.02 L685.04 279.05 L698.13 258.35 L711.22 233.68 L724.31 216.26 L739.44 197.15 L758.5 182.1 L779.88 176.24 L803.45 178.1 L828.03 181.41 L852.32 184.87 L875.89 187.83 L898.87 189.87 L923.6 191.56 L948.04 193.49 L972.33 193.84 L1000.7 194.18"/><path d="M587.57 364.26 L593.68 363.92 L627.29 362.19 L647.51 360.61 L670.93 357.37 L694.49 353.05 L718.06 348.05 L741.48 341.32 L763.3 328.04 L781.77 311.13 L798.5 292.85 L813.78 275.94 L835.74 249.52 L859.16 218.33 L870.8 205.56 L879.24 198.77 L889.27 190.87 L897.71 188.18 L917.78 183.49 L941.35 185.31 L964.77 186.59 L989.94 187.28 L1000.7 187.28"/></g>
</g>
<path d="M637.03 365.3 v-4.34 M637.03 20.3 v4.34 M709.77 365.3 v-4.34 M709.77 20.3 v4.34 M782.5 365.3 v-4.34 M782.5 20.3 v4.34 M855.23 365.3 v-4.34 M855.23 20.3 v4.34 M927.97 365.3 v-4.34 M927.97 20.3 v4.34 M564.3 330.8 h4.34 M1000.7 330.8 h-4.34 M564.3 296.3 h4.34 M1000.7 296.3 h-4.34 M564.3 261.8 h4.34 M1000.7 261.8 h-4.34 M564.3 227.3 h4.34 M1000.7 227.3 h-4.34 M564.3 192.8 h4.34 M1000.7 192.8 h-4.34 M564.3 158.3 h4.34 M1000.7 158.3 h-4.34 M564.3 123.8 h4.34 M1000.7 123.8 h-4.34 M564.3 89.3 h4.34 M1000.7 89.3 h-4.34 M564.3 54.8 h4.34 M1000.7 54.8 h-4.34" stroke="#747474" stroke-width="1" fill="none"/>
<rect x="564.3" y="20.3" width="436.4" height="345" fill="none" stroke="#747474" stroke-width="1.2"/>
<g font-family="'Liberation Sans', Arial, Helvetica, sans-serif" font-size="14.98" fill="#2b2b2b">
<g text-anchor="end">
<text x="558.19" y="371.14">0</text>
<text x="558.19" y="336.64">0.1</text>
<text x="558.19" y="302.14">0.2</text>
<text x="558.19" y="267.64">0.3</text>
<text x="558.19" y="233.14">0.4</text>
<text x="558.19" y="198.64">0.5</text>
<text x="558.19" y="164.14">0.6</text>
<text x="558.19" y="129.64">0.7</text>
<text x="558.19" y="95.14">0.8</text>
<text x="558.19" y="60.64">0.9</text>
<text x="558.19" y="26.14">1</text>
</g><g text-anchor="middle">
<text x="564.3" y="385.61">0</text>
<text x="637.03" y="385.61">50</text>
<text x="709.77" y="385.61">100</text>
<text x="782.5" y="385.61">150</text>
<text x="855.23" y="385.61">200</text>
<text x="927.97" y="385.61">250</text>
<text x="1000.7" y="385.61">300</text>
</g></g>
</g>
<g id="plot-c">
<path d="M1164.8 23.5 V366.5 M1226.8 23.5 V366.5 M1288.8 23.5 V366.5 M1350.8 23.5 V366.5 M1412.8 23.5 V366.5 M1474.8 23.5 V366.5 M1102.8 332.2 H1536.8 M1102.8 297.9 H1536.8 M1102.8 263.6 H1536.8 M1102.8 229.3 H1536.8 M1102.8 195 H1536.8 M1102.8 160.7 H1536.8 M1102.8 126.4 H1536.8 M1102.8 92.1 H1536.8 M1102.8 57.8 H1536.8" stroke="#efefef" stroke-width="1" fill="none"/>
<g clip-path="url(#clipc)">
<g fill="none" stroke="#2f72bc" stroke-width="3.25" stroke-linejoin="round"><path d="M1137.02 360.67 L1169.76 354.84 L1203.24 342.97 L1235.85 323.62 L1269.33 291.04 L1302.94 236.16 L1336.54 148.69 L1369.28 77.01 L1402.01 43.6 L1436.36 34.48 L1471.08 32.76 L1505.8 32.42 L1536.8 32.07"/><path d="M1137.02 361.36 L1169.76 356.42 L1203.24 345.58 L1235.85 328.77 L1271.07 302.7 L1304.55 257.22 L1339.64 179.56 L1373.49 93.81 L1407.84 49.91 L1443.06 35.5 L1477.28 33.1 L1512 32.42 L1536.8 32.07"/><path d="M1137.02 362.38 L1169.76 358.95 L1203.24 351.41 L1237.46 338.03 L1271.07 316.9 L1304.55 282.47 L1338.03 221.89 L1371.26 140.12 L1405.36 72.21 L1438.84 42.71 L1473.31 34.82 L1507.04 33.1 L1536.8 32.42"/><path d="M1137.02 363.41 L1169.76 361.46 L1203.24 358.1 L1237.46 352.2 L1271.07 342.15 L1304.55 324.48 L1338.03 296.73 L1371.26 249.88 L1404.74 176.13 L1438.1 97.93 L1471.58 51.97 L1505.18 36.88 L1536.8 33.45"/><path d="M1137.02 364.1 L1169.76 362.38 L1203.24 358.95 L1237.46 353.12 L1272.68 343.86 L1307.9 327.84 L1343.11 300.99 L1378.08 256.74 L1412.8 189.31 L1447.27 109.76 L1480.88 57.8 L1515.22 38.59 L1536.8 35.16"/></g>
<g fill="none" stroke="#ea6c34" stroke-width="3.2" stroke-linejoin="round" stroke-dasharray="12 11.8" stroke-dashoffset="18.8"><path d="M1140 359.64 L1145.33 338.03 L1153.64 316.08 L1163.81 294.47 L1172.24 270.46 L1181.42 247.14 L1187.24 225.18 L1193.07 201.86 L1198.16 177.51 L1203.98 154.18 L1209.07 130.69 L1214.9 107.19 L1219.98 83.87 L1227.42 68.78 L1234.24 62.02 L1245.9 49.57 L1252.59 43.6 L1261.02 35.16 L1272.68 33.55 L1283.84 32.21"/><path d="M1140 359.64 L1147.07 336.32 L1154.63 319.51 L1165.42 295.84 L1175.46 275.61 L1183.03 252.28 L1188.98 228.61 L1194.81 205.98 L1200.64 180.94 L1205.72 160.7 L1211.55 135.66 L1216.63 112.34 L1222.46 90.38 L1235.85 70.49 L1248.38 51.97 L1262.64 39.42 L1276.4 34.48 L1288.8 32.42"/><path d="M1140 360.33 L1158.6 329.46 L1172.24 309.22 L1184.64 287.61 L1190.59 267.37 L1195.68 243.71 L1201.5 218.67 L1207.33 195 L1212.42 170.99 L1219.11 149.04 L1225.81 126.4 L1234.24 103.9 L1244.16 80.44 L1252.59 60.34 L1265.98 42.02 L1278.88 35.16 L1292.52 32.42"/><path d="M1140 361.01 L1162.07 334.6 L1178.94 316.08 L1187.12 297.9 L1193.94 273.89 L1199.77 248.85 L1206.46 223.57 L1213.16 200.15 L1219.98 179.22 L1226.68 155.9 L1234.24 133.95 L1241.68 110.62 L1248.38 87.13 L1254.33 65.35 L1256.56 57.11 L1267.72 45.28 L1282.6 36.53 L1298.72 32.42"/><path d="M1140 361.7 L1167.16 341.29 L1183.9 324.48 L1192.33 302.7 L1200.76 280.75 L1209.07 257.22 L1215.64 235.47 L1224.07 211.81 L1229.16 189.31 L1235.85 165.84 L1241.68 142.52 L1247.63 118.96 L1253.46 95.53 L1260.16 72.21 L1262.76 63.63 L1273.55 54.37 L1292.77 39.42 L1307.9 32.76 L1313.6 31.87"/><path d="M1283.9 31.87 H1536.8" stroke-dasharray="13.8 10.17" stroke-dashoffset="0" stroke-width="3.5"/></g>
</g>
<path d="M1164.8 366.5 v-4.31 M1164.8 23.5 v4.31 M1226.8 366.5 v-4.31 M1226.8 23.5 v4.31 M1288.8 366.5 v-4.31 M1288.8 23.5 v4.31 M1350.8 366.5 v-4.31 M1350.8 23.5 v4.31 M1412.8 366.5 v-4.31 M1412.8 23.5 v4.31 M1474.8 366.5 v-4.31 M1474.8 23.5 v4.31 M1102.8 332.2 h4.31 M1536.8 332.2 h-4.31 M1102.8 297.9 h4.31 M1536.8 297.9 h-4.31 M1102.8 263.6 h4.31 M1536.8 263.6 h-4.31 M1102.8 229.3 h4.31 M1536.8 229.3 h-4.31 M1102.8 195 h4.31 M1536.8 195 h-4.31 M1102.8 160.7 h4.31 M1536.8 160.7 h-4.31 M1102.8 126.4 h4.31 M1536.8 126.4 h-4.31 M1102.8 92.1 h4.31 M1536.8 92.1 h-4.31 M1102.8 57.8 h4.31 M1536.8 57.8 h-4.31" stroke="#747474" stroke-width="1" fill="none"/>
<rect x="1102.8" y="23.5" width="434" height="343" fill="none" stroke="#747474" stroke-width="1.2"/>
<g font-family="'Liberation Sans', Arial, Helvetica, sans-serif" font-size="14.9" fill="#2b2b2b">
<g text-anchor="end">
<text x="1096.72" y="372.31">0</text>
<text x="1096.72" y="338.01">0.1</text>
<text x="1096.72" y="303.71">0.2</text>
<text x="1096.72" y="269.41">0.3</text>
<text x="1096.72" y="235.11">0.4</text>
<text x="1096.72" y="200.81">0.5</text>
<text x="1096.72" y="166.51">0.6</text>
<text x="1096.72" y="132.21">0.7</text>
<text x="1096.72" y="97.91">0.8</text>
<text x="1096.72" y="63.61">0.9</text>
<text x="1096.72" y="29.31">1</text>
</g><g text-anchor="middle">
<text x="1102.8" y="386.69">0</text>
<text x="1164.8" y="386.69">50</text>
<text x="1226.8" y="386.69">100</text>
<text x="1288.8" y="386.69">150</text>
<text x="1350.8" y="386.69">200</text>
<text x="1412.8" y="386.69">250</text>
<text x="1474.8" y="386.69">300</text>
<text x="1536.8" y="386.69">350</text>
</g></g>
</g>
<g id="plot-d">
<path d="M105.29 497.2 V861.2 M180.89 497.2 V861.2 M256.48 497.2 V861.2 M332.07 497.2 V861.2 M407.67 497.2 V861.2 M29.7 824.8 H475.7 M29.7 788.4 H475.7 M29.7 752 H475.7 M29.7 715.6 H475.7 M29.7 679.2 H475.7 M29.7 642.8 H475.7 M29.7 606.4 H475.7 M29.7 570 H475.7 M29.7 533.6 H475.7" stroke="#efefef" stroke-width="1" fill="none"/>
<g clip-path="url(#clipd)">
<g fill="none" stroke="#2f72bc" stroke-width="3.2" stroke-linejoin="round"><path d="M37.18 852.83 L39.7 850.79 L42.22 848.74 L44.74 846.69 L47.26 844.61 L49.78 842.52 L52.3 840.42 L54.83 838.29 L57.35 836.14 L59.87 833.98 L62.39 831.79 L64.91 829.59 L67.43 827.38 L69.95 825.15 L72.47 822.91 L74.99 820.66 L77.51 818.39 L80.03 816.11 L82.55 813.81 L85.07 811.48 L87.59 809.13 L90.11 806.75 L92.63 804.33 L95.15 801.86 L97.67 799.36 L100.19 796.8 L102.71 794.18 L105.23 791.51 L107.75 788.76 L110.27 785.95 L112.79 783.07 L115.31 780.13 L117.83 777.14 L120.35 774.1 L122.87 771.02 L125.39 767.91 L127.91 764.78 L130.43 761.64 L132.95 758.49 L135.47 755.32 L137.99 752.15 L140.51 748.96 L143.03 745.76 L145.55 742.53 L148.07 739.29 L150.59 736.02 L153.11 732.74 L155.63 729.44 L158.15 726.11 L160.67 722.76 L163.19 719.39 L165.71 716 L168.23 712.6 L170.75 709.21 L173.27 705.83 L175.8 702.48 L178.32 699.17 L180.84 695.89 L183.36 692.65 L185.88 689.46 L188.4 686.3 L190.92 683.19 L193.44 680.12 L195.96 677.09 L198.48 674.13 L201 671.22 L203.52 668.38 L206.04 665.6 L208.56 662.9 L211.08 660.26 L213.6 657.69 L216.12 655.19 L218.64 652.77 L221.16 650.41 L223.68 648.12 L226.2 645.9 L228.72 643.76 L231.24 641.68 L233.76 639.68 L236.28 637.76 L238.8 635.92 L241.32 634.15 L243.84 632.45 L246.36 630.81 L248.88 629.23 L251.4 627.7 L253.92 626.21 L256.44 624.76 L258.96 623.35 L261.48 621.97 L264 620.62 L266.52 619.31 L269.04 618.06 L271.56 616.86 L274.08 615.72 L276.6 614.64 L279.12 613.62 L281.64 612.65 L284.16 611.73 L286.68 610.85 L289.2 610.01 L291.72 609.22 L294.24 608.46 L296.77 607.75 L299.29 607.09 L301.81 606.47 L304.33 605.9 L306.85 605.36 L309.37 604.86 L311.89 604.39 L314.41 603.94 L316.93 603.52 L319.45 603.13 L321.97 602.76 L324.49 602.42 L327.01 602.1 L329.53 601.81 L332.05 601.54 L334.57 601.28 L337.09 601.04 L339.61 600.82 L342.13 600.6 L344.65 600.39 L347.17 600.19 L349.69 600.01 L352.21 599.83 L354.73 599.66 L357.25 599.5 L359.77 599.35 L362.29 599.22 L364.81 599.09 L367.33 598.98 L369.85 598.88 L372.37 598.79 L374.89 598.7 L377.41 598.63 L379.93 598.56 L382.45 598.49 L384.97 598.42 L387.49 598.36 L390.01 598.31 L392.53 598.25 L395.05 598.2 L397.57 598.15 L400.09 598.1 L402.61 598.06 L405.13 598.02 L407.65 597.98 L410.17 597.94 L412.69 597.91 L415.21 597.87 L417.74 597.84 L420.26 597.81 L422.78 597.78 L425.3 597.76 L427.82 597.73 L430.34 597.71 L432.86 597.68 L435.38 597.66 L437.9 597.63 L440.42 597.61 L442.94 597.59 L445.46 597.57 L447.98 597.55 L450.5 597.53 L453.02 597.51 L455.54 597.49 L458.06 597.48 L460.58 597.46 L463.1 597.45 L465.62 597.44 L468.14 597.43 L470.66 597.42 L473.18 597.42 L475.7 597.41"/><path d="M37.18 856.83 L39.7 856.26 L42.22 855.68 L44.74 855.1 L47.26 854.5 L49.78 853.9 L52.3 853.28 L54.83 852.65 L57.35 852.01 L59.87 851.36 L62.39 850.69 L64.91 850.02 L67.43 849.33 L69.95 848.64 L72.47 847.94 L74.99 847.22 L77.51 846.5 L80.03 845.77 L82.55 845.03 L85.07 844.26 L87.59 843.48 L90.11 842.68 L92.63 841.86 L95.15 841.01 L97.67 840.13 L100.19 839.22 L102.71 838.28 L105.23 837.29 L107.75 836.26 L110.27 835.19 L112.79 834.06 L115.31 832.89 L117.83 831.68 L120.35 830.43 L122.87 829.14 L125.39 827.81 L127.91 826.45 L130.43 825.06 L132.95 823.64 L135.47 822.19 L137.99 820.69 L140.51 819.16 L143.03 817.59 L145.55 815.98 L148.07 814.32 L150.59 812.63 L153.11 810.9 L155.63 809.13 L158.15 807.34 L160.67 805.51 L163.19 803.65 L165.71 801.75 L168.23 799.82 L170.75 797.84 L173.27 795.81 L175.8 793.73 L178.32 791.61 L180.84 789.43 L183.36 787.19 L185.88 784.91 L188.4 782.57 L190.92 780.19 L193.44 777.75 L195.96 775.27 L198.48 772.75 L201 770.18 L203.52 767.57 L206.04 764.92 L208.56 762.23 L211.08 759.49 L213.6 756.7 L216.12 753.86 L218.64 750.96 L221.16 748.01 L223.68 745.01 L226.2 741.98 L228.72 738.92 L231.24 735.85 L233.76 732.77 L236.28 729.69 L238.8 726.61 L241.32 723.53 L243.84 720.46 L246.36 717.39 L248.88 714.34 L251.4 711.31 L253.92 708.32 L256.44 705.39 L258.96 702.5 L261.48 699.68 L264 696.92 L266.52 694.2 L269.04 691.54 L271.56 688.92 L274.08 686.33 L276.6 683.77 L279.12 681.23 L281.64 678.72 L284.16 676.22 L286.68 673.73 L289.2 671.28 L291.72 668.85 L294.24 666.48 L296.77 664.17 L299.29 661.94 L301.81 659.79 L304.33 657.73 L306.85 655.77 L309.37 653.89 L311.89 652.1 L314.41 650.37 L316.93 648.7 L319.45 647.09 L321.97 645.52 L324.49 644 L327.01 642.5 L329.53 641.03 L332.05 639.58 L334.57 638.15 L337.09 636.74 L339.61 635.36 L342.13 634.01 L344.65 632.7 L347.17 631.44 L349.69 630.24 L352.21 629.1 L354.73 628.02 L357.25 627.01 L359.77 626.07 L362.29 625.17 L364.81 624.32 L367.33 623.5 L369.85 622.72 L372.37 621.95 L374.89 621.19 L377.41 620.45 L379.93 619.7 L382.45 618.96 L384.97 618.22 L387.49 617.48 L390.01 616.75 L392.53 616.04 L395.05 615.35 L397.57 614.68 L400.09 614.04 L402.61 613.43 L405.13 612.85 L407.65 612.3 L410.17 611.78 L412.69 611.28 L415.21 610.8 L417.74 610.33 L420.26 609.89 L422.78 609.47 L425.3 609.06 L427.82 608.69 L430.34 608.35 L432.86 608.03 L435.38 607.75 L437.9 607.5 L440.42 607.28 L442.94 607.09 L445.46 606.91 L447.98 606.74 L450.5 606.58 L453.02 606.44 L455.54 606.3 L458.06 606.18 L460.58 606.06 L463.1 605.97 L465.62 605.88 L468.14 605.81 L470.66 605.76 L473.18 605.71 L475.7 605.67"/><path d="M37.18 857.81 L39.7 857.22 L42.22 856.63 L44.74 856.02 L47.26 855.42 L49.78 854.8 L52.3 854.18 L54.83 853.55 L57.35 852.91 L59.87 852.26 L62.39 851.61 L64.91 850.95 L67.43 850.27 L69.95 849.59 L72.47 848.91 L74.99 848.21 L77.51 847.5 L80.03 846.79 L82.55 846.07 L85.07 845.34 L87.59 844.6 L90.11 843.85 L92.63 843.1 L95.15 842.34 L97.67 841.58 L100.19 840.81 L102.71 840.03 L105.23 839.25 L107.75 838.47 L110.27 837.68 L112.79 836.89 L115.31 836.08 L117.83 835.27 L120.35 834.45 L122.87 833.61 L125.39 832.76 L127.91 831.88 L130.43 830.98 L132.95 830.05 L135.47 829.09 L137.99 828.09 L140.51 827.06 L143.03 825.99 L145.55 824.89 L148.07 823.77 L150.59 822.63 L153.11 821.48 L155.63 820.33 L158.15 819.18 L160.67 818.03 L163.19 816.89 L165.71 815.75 L168.23 814.62 L170.75 813.49 L173.27 812.34 L175.8 811.17 L178.32 809.98 L180.84 808.76 L183.36 807.51 L185.88 806.23 L188.4 804.93 L190.92 803.61 L193.44 802.26 L195.96 800.89 L198.48 799.5 L201 798.08 L203.52 796.63 L206.04 795.15 L208.56 793.64 L211.08 792.1 L213.6 790.53 L216.12 788.91 L218.64 787.26 L221.16 785.56 L223.68 783.81 L226.2 782.01 L228.72 780.15 L231.24 778.24 L233.76 776.27 L236.28 774.26 L238.8 772.2 L241.32 770.1 L243.84 767.96 L246.36 765.8 L248.88 763.6 L251.4 761.39 L253.92 759.15 L256.44 756.89 L258.96 754.61 L261.48 752.29 L264 749.94 L266.52 747.55 L269.04 745.12 L271.56 742.66 L274.08 740.19 L276.6 737.69 L279.12 735.19 L281.64 732.69 L284.16 730.2 L286.68 727.73 L289.2 725.27 L291.72 722.82 L294.24 720.39 L296.77 717.96 L299.29 715.54 L301.81 713.14 L304.33 710.74 L306.85 708.35 L309.37 705.99 L311.89 703.64 L314.41 701.33 L316.93 699.04 L319.45 696.79 L321.97 694.58 L324.49 692.4 L327.01 690.25 L329.53 688.13 L332.05 686.03 L334.57 683.96 L337.09 681.9 L339.61 679.85 L342.13 677.8 L344.65 675.76 L347.17 673.73 L349.69 671.71 L352.21 669.71 L354.73 667.74 L357.25 665.78 L359.77 663.86 L362.29 661.97 L364.81 660.11 L367.33 658.28 L369.85 656.49 L372.37 654.75 L374.89 653.07 L377.41 651.46 L379.93 649.91 L382.45 648.43 L384.97 647 L387.49 645.64 L390.01 644.31 L392.53 643.04 L395.05 641.8 L397.57 640.59 L400.09 639.42 L402.61 638.29 L405.13 637.18 L407.65 636.1 L410.17 635.04 L412.69 634.01 L415.21 633 L417.74 632.01 L420.26 631.04 L422.78 630.09 L425.3 629.18 L427.82 628.28 L430.34 627.42 L432.86 626.58 L435.38 625.77 L437.9 624.99 L440.42 624.23 L442.94 623.5 L445.46 622.78 L447.98 622.09 L450.5 621.41 L453.02 620.76 L455.54 620.12 L458.06 619.5 L460.58 618.9 L463.1 618.32 L465.62 617.76 L468.14 617.23 L470.66 616.71 L473.18 616.21 L475.7 615.72"/><path d="M37.18 859.49 L39.7 859.17 L42.22 858.84 L44.74 858.52 L47.26 858.19 L49.78 857.85 L52.3 857.51 L54.83 857.17 L57.35 856.82 L59.87 856.46 L62.39 856.11 L64.91 855.74 L67.43 855.38 L69.95 855.01 L72.47 854.63 L74.99 854.26 L77.51 853.87 L80.03 853.49 L82.55 853.1 L85.07 852.7 L87.59 852.3 L90.11 851.89 L92.63 851.47 L95.15 851.05 L97.67 850.61 L100.19 850.16 L102.71 849.71 L105.23 849.24 L107.75 848.76 L110.27 848.26 L112.79 847.75 L115.31 847.23 L117.83 846.7 L120.35 846.15 L122.87 845.59 L125.39 845.02 L127.91 844.43 L130.43 843.84 L132.95 843.23 L135.47 842.61 L137.99 841.98 L140.51 841.34 L143.03 840.68 L145.55 840 L148.07 839.31 L150.59 838.61 L153.11 837.89 L155.63 837.16 L158.15 836.42 L160.67 835.66 L163.19 834.9 L165.71 834.12 L168.23 833.32 L170.75 832.5 L173.27 831.66 L175.8 830.78 L178.32 829.88 L180.84 828.94 L183.36 827.96 L185.88 826.95 L188.4 825.9 L190.92 824.82 L193.44 823.71 L195.96 822.57 L198.48 821.41 L201 820.22 L203.52 819.01 L206.04 817.78 L208.56 816.53 L211.08 815.27 L213.6 813.99 L216.12 812.7 L218.64 811.39 L221.16 810.07 L223.68 808.73 L226.2 807.38 L228.72 806 L231.24 804.61 L233.76 803.19 L236.28 801.75 L238.8 800.29 L241.32 798.81 L243.84 797.3 L246.36 795.78 L248.88 794.23 L251.4 792.65 L253.92 791.06 L256.44 789.43 L258.96 787.78 L261.48 786.11 L264 784.4 L266.52 782.66 L269.04 780.89 L271.56 779.09 L274.08 777.27 L276.6 775.41 L279.12 773.52 L281.64 771.6 L284.16 769.66 L286.68 767.68 L289.2 765.67 L291.72 763.62 L294.24 761.54 L296.77 759.41 L299.29 757.25 L301.81 755.04 L304.33 752.81 L306.85 750.56 L309.37 748.28 L311.89 746 L314.41 743.71 L316.93 741.43 L319.45 739.14 L321.97 736.86 L324.49 734.58 L327.01 732.3 L329.53 730.02 L332.05 727.73 L334.57 725.44 L337.09 723.13 L339.61 720.82 L342.13 718.48 L344.65 716.14 L347.17 713.79 L349.69 711.43 L352.21 709.08 L354.73 706.74 L357.25 704.44 L359.77 702.17 L362.29 699.95 L364.81 697.77 L367.33 695.63 L369.85 693.53 L372.37 691.44 L374.89 689.38 L377.41 687.31 L379.93 685.24 L382.45 683.16 L384.97 681.07 L387.49 678.96 L390.01 676.84 L392.53 674.72 L395.05 672.61 L397.57 670.52 L400.09 668.46 L402.61 666.43 L405.13 664.45 L407.65 662.52 L410.17 660.63 L412.69 658.79 L415.21 656.97 L417.74 655.19 L420.26 653.45 L422.78 651.74 L425.3 650.07 L427.82 648.45 L430.34 646.87 L432.86 645.34 L435.38 643.87 L437.9 642.46 L440.42 641.09 L442.94 639.77 L445.46 638.49 L447.98 637.24 L450.5 636.03 L453.02 634.85 L455.54 633.71 L458.06 632.6 L460.58 631.53 L463.1 630.5 L465.62 629.51 L468.14 628.56 L470.66 627.64 L473.18 626.75 L475.7 625.87"/><path d="M37.18 860.11 L39.7 859.83 L42.22 859.56 L44.74 859.29 L47.26 859.02 L49.78 858.74 L52.3 858.47 L54.83 858.2 L57.35 857.93 L59.87 857.65 L62.39 857.38 L64.91 857.11 L67.43 856.84 L69.95 856.58 L72.47 856.31 L74.99 856.05 L77.51 855.79 L80.03 855.52 L82.55 855.26 L85.07 855 L87.59 854.74 L90.11 854.47 L92.63 854.2 L95.15 853.93 L97.67 853.65 L100.19 853.36 L102.71 853.07 L105.23 852.77 L107.75 852.47 L110.27 852.16 L112.79 851.85 L115.31 851.53 L117.83 851.2 L120.35 850.87 L122.87 850.53 L125.39 850.17 L127.91 849.81 L130.43 849.43 L132.95 849.04 L135.47 848.64 L137.99 848.21 L140.51 847.77 L143.03 847.31 L145.55 846.83 L148.07 846.34 L150.59 845.84 L153.11 845.32 L155.63 844.8 L158.15 844.28 L160.67 843.75 L163.19 843.22 L165.71 842.68 L168.23 842.14 L170.75 841.58 L173.27 841.02 L175.8 840.44 L178.32 839.83 L180.84 839.21 L183.36 838.57 L185.88 837.9 L188.4 837.22 L190.92 836.51 L193.44 835.79 L195.96 835.05 L198.48 834.29 L201 833.52 L203.52 832.74 L206.04 831.95 L208.56 831.14 L211.08 830.33 L213.6 829.51 L216.12 828.69 L218.64 827.85 L221.16 827.01 L223.68 826.17 L226.2 825.32 L228.72 824.46 L231.24 823.59 L233.76 822.71 L236.28 821.81 L238.8 820.9 L241.32 819.98 L243.84 819.03 L246.36 818.06 L248.88 817.06 L251.4 816.04 L253.92 814.98 L256.44 813.89 L258.96 812.77 L261.48 811.62 L264 810.42 L266.52 809.19 L269.04 807.92 L271.56 806.62 L274.08 805.29 L276.6 803.92 L279.12 802.53 L281.64 801.1 L284.16 799.65 L286.68 798.17 L289.2 796.66 L291.72 795.11 L294.24 793.53 L296.77 791.91 L299.29 790.26 L301.81 788.57 L304.33 786.85 L306.85 785.09 L309.37 783.31 L311.89 781.49 L314.41 779.65 L316.93 777.78 L319.45 775.87 L321.97 773.94 L324.49 771.97 L327.01 769.96 L329.53 767.91 L332.05 765.83 L334.57 763.72 L337.09 761.57 L339.61 759.4 L342.13 757.19 L344.65 754.96 L347.17 752.71 L349.69 750.42 L352.21 748.11 L354.73 745.77 L357.25 743.41 L359.77 741.03 L362.29 738.61 L364.81 736.17 L367.33 733.71 L369.85 731.23 L372.37 728.75 L374.89 726.27 L377.41 723.81 L379.93 721.37 L382.45 718.97 L384.97 716.6 L387.49 714.27 L390.01 711.96 L392.53 709.68 L395.05 707.41 L397.57 705.15 L400.09 702.9 L402.61 700.65 L405.13 698.38 L407.65 696.1 L410.17 693.8 L412.69 691.48 L415.21 689.13 L417.74 686.76 L420.26 684.37 L422.78 681.98 L425.3 679.6 L427.82 677.24 L430.34 674.91 L432.86 672.62 L435.38 670.38 L437.9 668.21 L440.42 666.09 L442.94 664.03 L445.46 662.03 L447.98 660.07 L450.5 658.15 L453.02 656.28 L455.54 654.44 L458.06 652.64 L460.58 650.88 L463.1 649.16 L465.62 647.48 L468.14 645.84 L470.66 644.23 L473.18 642.65 L475.7 641.09"/></g>
<g fill="none" stroke="#ea6c34" stroke-width="3.2" stroke-linejoin="round" stroke-dasharray="13 12.47" stroke-dashoffset="19.17"><path d="M38.77 856.83 L41.3 854.89 L43.82 853.13 L46.35 851.76 L48.87 850.95 L51.4 850.45 L53.92 850.02 L56.45 849.66 L58.98 849.4 L61.5 849.24 L64.03 849.19 L66.55 849.22 L69.08 849.31 L71.6 849.43 L74.13 849.58 L76.66 849.76 L79.18 849.94 L81.71 850.21 L84.23 850.59 L86.76 851.03 L89.28 851.53 L91.81 852.04 L94.33 852.54 L96.86 853.1 L99.39 853.73 L101.91 854.34 L104.44 854.87 L106.96 855.28 L109.49 855.68 L112.01 856.06 L114.54 856.39 L117.06 856.65 L119.59 856.81 L122.12 856.87 L124.64 856.93 L127.17 856.98 L129.69 857.02 L132.22 857.06 L134.74 857.1 L137.27 857.12 L139.8 857.15 L142.32 857.17 L144.85 857.18 L147.37 857.19 L149.9 857.2 L152.42 857.2 L154.95 857.2 L157.47 857.2 L160 857.2 L162.53 857.2 L165.05 857.2 L167.58 857.2 L170.1 857.2 L172.63 857.2 L175.15 857.2 L177.68 857.2 L180.2 857.2 L182.73 857.2 L185.26 857.2 L187.78 857.2 L190.31 857.2 L192.83 857.2 L195.36 857.2 L197.88 857.2 L200.41 857.2 L202.94 857.2 L205.46 857.2 L207.99 857.2 L210.51 857.2 L213.04 857.2 L215.56 857.2 L218.09 857.2 L220.61 857.2 L223.14 857.2 L225.67 857.2 L228.19 857.2 L230.72 857.2 L233.24 857.2 L235.77 857.2 L238.29 857.2 L240.82 857.2 L243.34 857.2 L245.87 857.2 L248.4 857.2 L250.92 857.2 L253.45 857.2 L255.97 857.2 L258.5 857.2 L261.02 857.2 L263.55 857.2 L266.08 857.2 L268.6 857.2 L271.13 857.2 L273.65 857.2 L276.18 857.2 L278.7 857.2 L281.23 857.2 L283.75 857.2 L286.28 857.2 L288.81 857.2 L291.33 857.2 L293.86 857.2 L296.38 857.2 L298.91 857.2 L301.43 857.2 L303.96 857.2 L306.48 857.2 L309.01 857.2 L311.54 857.2 L314.06 857.2 L316.59 857.2 L319.11 857.2 L321.64 857.2 L324.16 857.2 L326.69 857.2 L329.22 857.2 L331.74 857.2 L334.27 857.2 L336.79 857.2 L339.32 857.2 L341.84 857.2 L344.37 857.2 L346.89 857.2 L349.42 857.2 L351.95 857.2 L354.47 857.2 L357 857.2 L359.52 857.2 L362.05 857.2 L364.57 857.2 L367.1 857.2 L369.62 857.2 L372.15 857.2 L374.68 857.2 L377.2 857.2 L379.73 857.2 L382.25 857.2 L384.78 857.2 L387.3 857.2 L389.83 857.2 L392.36 857.2 L394.88 857.2 L397.41 857.2 L399.93 857.2 L402.46 857.2 L404.98 857.2 L407.51 857.2 L410.03 857.2 L412.56 857.2 L415.09 857.2 L417.61 857.2 L420.14 857.2 L422.66 857.2 L425.19 857.2 L427.71 857.2 L430.24 857.2 L432.76 857.2 L435.29 857.2 L437.82 857.2 L440.34 857.2 L442.87 857.2 L445.39 857.2 L447.92 857.2 L450.44 857.2 L452.97 857.2 L455.5 857.2 L458.02 857.2 L460.55 857.2 L463.07 857.2 L465.6 857.2 L468.12 857.2 L470.65 857.2 L473.17 857.2 L475.7 857.2"/><path d="M38.77 857.56 L41.3 857.3 L43.82 857.05 L46.35 856.82 L48.87 856.6 L51.4 856.41 L53.92 856.26 L56.45 856.16 L58.98 856.11 L61.5 856.11 L64.03 856.11 L66.55 856.13 L69.08 856.15 L71.6 856.17 L74.13 856.21 L76.66 856.24 L79.18 856.28 L81.71 856.32 L84.23 856.36 L86.76 856.41 L89.28 856.45 L91.81 856.5 L94.33 856.58 L96.86 856.67 L99.39 856.79 L101.91 856.91 L104.44 857.03 L106.96 857.15 L109.49 857.27 L112.01 857.37 L114.54 857.46 L117.06 857.52 L119.59 857.56 L122.12 857.56 L124.64 857.57 L127.17 857.58 L129.69 857.58 L132.22 857.59 L134.74 857.6 L137.27 857.6 L139.8 857.61 L142.32 857.62 L144.85 857.62 L147.37 857.63 L149.9 857.63 L152.42 857.64 L154.95 857.65 L157.47 857.65 L160 857.66 L162.53 857.66 L165.05 857.67 L167.58 857.67 L170.1 857.68 L172.63 857.68 L175.15 857.69 L177.68 857.69 L180.2 857.7 L182.73 857.7 L185.26 857.71 L187.78 857.71 L190.31 857.72 L192.83 857.72 L195.36 857.73 L197.88 857.73 L200.41 857.74 L202.94 857.74 L205.46 857.75 L207.99 857.75 L210.51 857.75 L213.04 857.76 L215.56 857.76 L218.09 857.77 L220.61 857.77 L223.14 857.77 L225.67 857.78 L228.19 857.78 L230.72 857.79 L233.24 857.79 L235.77 857.79 L238.29 857.8 L240.82 857.8 L243.34 857.8 L245.87 857.81 L248.4 857.81 L250.92 857.81 L253.45 857.82 L255.97 857.82 L258.5 857.82 L261.02 857.83 L263.55 857.83 L266.08 857.83 L268.6 857.83 L271.13 857.84 L273.65 857.84 L276.18 857.84 L278.7 857.84 L281.23 857.85 L283.75 857.85 L286.28 857.85 L288.81 857.85 L291.33 857.86 L293.86 857.86 L296.38 857.86 L298.91 857.86 L301.43 857.87 L303.96 857.87 L306.48 857.87 L309.01 857.87 L311.54 857.87 L314.06 857.88 L316.59 857.88 L319.11 857.88 L321.64 857.88 L324.16 857.88 L326.69 857.88 L329.22 857.89 L331.74 857.89 L334.27 857.89 L336.79 857.89 L339.32 857.89 L341.84 857.89 L344.37 857.89 L346.89 857.9 L349.42 857.9 L351.95 857.9 L354.47 857.9 L357 857.9 L359.52 857.9 L362.05 857.9 L364.57 857.9 L367.1 857.91 L369.62 857.91 L372.15 857.91 L374.68 857.91 L377.2 857.91 L379.73 857.91 L382.25 857.91 L384.78 857.91 L387.3 857.91 L389.83 857.91 L392.36 857.91 L394.88 857.91 L397.41 857.92 L399.93 857.92 L402.46 857.92 L404.98 857.92 L407.51 857.92 L410.03 857.92 L412.56 857.92 L415.09 857.92 L417.61 857.92 L420.14 857.92 L422.66 857.92 L425.19 857.92 L427.71 857.92 L430.24 857.92 L432.76 857.92 L435.29 857.92 L437.82 857.92 L440.34 857.92 L442.87 857.92 L445.39 857.92 L447.92 857.92 L450.44 857.92 L452.97 857.92 L455.5 857.92 L458.02 857.92 L460.55 857.92 L463.07 857.92 L465.6 857.92 L468.12 857.92 L470.65 857.92 L473.17 857.92 L475.7 857.92"/><path d="M38.77 858.29 L41.3 858.15 L43.82 858.03 L46.35 857.91 L48.87 857.8 L51.4 857.71 L53.92 857.64 L56.45 857.59 L58.98 857.56 L61.5 857.56 L64.03 857.57 L66.55 857.59 L69.08 857.61 L71.6 857.64 L74.13 857.67 L76.66 857.7 L79.18 857.74 L81.71 857.78 L84.23 857.83 L86.76 857.87 L89.28 857.91 L91.81 857.95 L94.33 858.01 L96.86 858.08 L99.39 858.16 L101.91 858.24 L104.44 858.32 L106.96 858.4 L109.49 858.48 L112.01 858.54 L114.54 858.6 L117.06 858.63 L119.59 858.65 L122.12 858.65 L124.64 858.65 L127.17 858.65 L129.69 858.65 L132.22 858.65 L134.74 858.65 L137.27 858.65 L139.8 858.65 L142.32 858.65 L144.85 858.65 L147.37 858.65 L149.9 858.65 L152.42 858.65 L154.95 858.65 L157.47 858.65 L160 858.65 L162.53 858.65 L165.05 858.65 L167.58 858.65 L170.1 858.65 L172.63 858.65 L175.15 858.65 L177.68 858.65 L180.2 858.65 L182.73 858.65 L185.26 858.65 L187.78 858.65 L190.31 858.65 L192.83 858.65 L195.36 858.65 L197.88 858.65 L200.41 858.65 L202.94 858.65 L205.46 858.65 L207.99 858.65 L210.51 858.65 L213.04 858.65 L215.56 858.65 L218.09 858.65 L220.61 858.65 L223.14 858.65 L225.67 858.65 L228.19 858.65 L230.72 858.65 L233.24 858.65 L235.77 858.65 L238.29 858.65 L240.82 858.65 L243.34 858.65 L245.87 858.65 L248.4 858.65 L250.92 858.65 L253.45 858.65 L255.97 858.65 L258.5 858.65 L261.02 858.65 L263.55 858.65 L266.08 858.65 L268.6 858.65 L271.13 858.65 L273.65 858.65 L276.18 858.65 L278.7 858.65 L281.23 858.65 L283.75 858.65 L286.28 858.65 L288.81 858.65 L291.33 858.65 L293.86 858.65 L296.38 858.65 L298.91 858.65 L301.43 858.65 L303.96 858.65 L306.48 858.65 L309.01 858.65 L311.54 858.65 L314.06 858.65 L316.59 858.65 L319.11 858.65 L321.64 858.65 L324.16 858.65 L326.69 858.65 L329.22 858.65 L331.74 858.65 L334.27 858.65 L336.79 858.65 L339.32 858.65 L341.84 858.65 L344.37 858.65 L346.89 858.65 L349.42 858.65 L351.95 858.65 L354.47 858.65 L357 858.65 L359.52 858.65 L362.05 858.65 L364.57 858.65 L367.1 858.65 L369.62 858.65 L372.15 858.65 L374.68 858.65 L377.2 858.65 L379.73 858.65 L382.25 858.65 L384.78 858.65 L387.3 858.65 L389.83 858.65 L392.36 858.65 L394.88 858.65 L397.41 858.65 L399.93 858.65 L402.46 858.65 L404.98 858.65 L407.51 858.65 L410.03 858.65 L412.56 858.65 L415.09 858.65 L417.61 858.65 L420.14 858.65 L422.66 858.65 L425.19 858.65 L427.71 858.65 L430.24 858.65 L432.76 858.65 L435.29 858.65 L437.82 858.65 L440.34 858.65 L442.87 858.65 L445.39 858.65 L447.92 858.65 L450.44 858.65 L452.97 858.65 L455.5 858.65 L458.02 858.65 L460.55 858.65 L463.07 858.65 L465.6 858.65 L468.12 858.65 L470.65 858.65 L473.17 858.65 L475.7 858.65"/><path d="M38.77 859.02 L41.3 859.02 L43.82 859.02 L46.35 859.02 L48.87 859.02 L51.4 859.02 L53.92 859.02 L56.45 859.02 L58.98 859.02 L61.5 859.02 L64.03 859.03 L66.55 859.06 L69.08 859.1 L71.6 859.14 L74.13 859.18 L76.66 859.23 L79.18 859.27 L81.71 859.31 L84.23 859.34 L86.76 859.37 L89.28 859.38 L91.81 859.38 L94.33 859.38 L96.86 859.38 L99.39 859.38 L101.91 859.38 L104.44 859.38 L106.96 859.38 L109.49 859.38 L112.01 859.38 L114.54 859.38 L117.06 859.38 L119.59 859.38 L122.12 859.38 L124.64 859.38 L127.17 859.38 L129.69 859.38 L132.22 859.38 L134.74 859.38 L137.27 859.38 L139.8 859.38 L142.32 859.38 L144.85 859.38 L147.37 859.38 L149.9 859.38 L152.42 859.38 L154.95 859.38 L157.47 859.38 L160 859.38 L162.53 859.38 L165.05 859.38 L167.58 859.38 L170.1 859.38 L172.63 859.38 L175.15 859.38 L177.68 859.38 L180.2 859.38 L182.73 859.38 L185.26 859.38 L187.78 859.38 L190.31 859.38 L192.83 859.38 L195.36 859.38 L197.88 859.38 L200.41 859.38 L202.94 859.38 L205.46 859.38 L207.99 859.38 L210.51 859.38 L213.04 859.38 L215.56 859.38 L218.09 859.38 L220.61 859.38 L223.14 859.38 L225.67 859.38 L228.19 859.38 L230.72 859.38 L233.24 859.38 L235.77 859.38 L238.29 859.38 L240.82 859.38 L243.34 859.38 L245.87 859.38 L248.4 859.38 L250.92 859.38 L253.45 859.38 L255.97 859.38 L258.5 859.38 L261.02 859.38 L263.55 859.38 L266.08 859.38 L268.6 859.38 L271.13 859.38 L273.65 859.38 L276.18 859.38 L278.7 859.38 L281.23 859.38 L283.75 859.38 L286.28 859.38 L288.81 859.38 L291.33 859.38 L293.86 859.38 L296.38 859.38 L298.91 859.38 L301.43 859.38 L303.96 859.38 L306.48 859.38 L309.01 859.38 L311.54 859.38 L314.06 859.38 L316.59 859.38 L319.11 859.38 L321.64 859.38 L324.16 859.38 L326.69 859.38 L329.22 859.38 L331.74 859.38 L334.27 859.38 L336.79 859.38 L339.32 859.38 L341.84 859.38 L344.37 859.38 L346.89 859.38 L349.42 859.38 L351.95 859.38 L354.47 859.38 L357 859.38 L359.52 859.38 L362.05 859.38 L364.57 859.38 L367.1 859.38 L369.62 859.38 L372.15 859.38 L374.68 859.38 L377.2 859.38 L379.73 859.38 L382.25 859.38 L384.78 859.38 L387.3 859.38 L389.83 859.38 L392.36 859.38 L394.88 859.38 L397.41 859.38 L399.93 859.38 L402.46 859.38 L404.98 859.38 L407.51 859.38 L410.03 859.38 L412.56 859.38 L415.09 859.38 L417.61 859.38 L420.14 859.38 L422.66 859.38 L425.19 859.38 L427.71 859.38 L430.24 859.38 L432.76 859.38 L435.29 859.38 L437.82 859.38 L440.34 859.38 L442.87 859.38 L445.39 859.38 L447.92 859.38 L450.44 859.38 L452.97 859.38 L455.5 859.38 L458.02 859.38 L460.55 859.38 L463.07 859.38 L465.6 859.38 L468.12 859.38 L470.65 859.38 L473.17 859.38 L475.7 859.38"/><path d="M38.77 859.74 L41.3 859.81 L43.82 859.87 L46.35 859.93 L48.87 859.98 L51.4 860.03 L53.92 860.07 L56.45 860.09 L58.98 860.11 L61.5 860.11 L64.03 860.11 L66.55 860.11 L69.08 860.11 L71.6 860.11 L74.13 860.11 L76.66 860.11 L79.18 860.11 L81.71 860.11 L84.23 860.11 L86.76 860.11 L89.28 860.11 L91.81 860.11 L94.33 860.11 L96.86 860.11 L99.39 860.11 L101.91 860.11 L104.44 860.11 L106.96 860.11 L109.49 860.11 L112.01 860.11 L114.54 860.11 L117.06 860.11 L119.59 860.11 L122.12 860.11 L124.64 860.11 L127.17 860.11 L129.69 860.11 L132.22 860.11 L134.74 860.11 L137.27 860.11 L139.8 860.11 L142.32 860.11 L144.85 860.11 L147.37 860.11 L149.9 860.11 L152.42 860.11 L154.95 860.11 L157.47 860.11 L160 860.11 L162.53 860.11 L165.05 860.11 L167.58 860.11 L170.1 860.11 L172.63 860.11 L175.15 860.11 L177.68 860.11 L180.2 860.11 L182.73 860.11 L185.26 860.11 L187.78 860.11 L190.31 860.11 L192.83 860.11 L195.36 860.11 L197.88 860.11 L200.41 860.11 L202.94 860.11 L205.46 860.11 L207.99 860.11 L210.51 860.11 L213.04 860.11 L215.56 860.11 L218.09 860.11 L220.61 860.11 L223.14 860.11 L225.67 860.11 L228.19 860.11 L230.72 860.11 L233.24 860.11 L235.77 860.11 L238.29 860.11 L240.82 860.11 L243.34 860.11 L245.87 860.11 L248.4 860.11 L250.92 860.11 L253.45 860.11 L255.97 860.11 L258.5 860.11 L261.02 860.11 L263.55 860.11 L266.08 860.11 L268.6 860.11 L271.13 860.11 L273.65 860.11 L276.18 860.11 L278.7 860.11 L281.23 860.11 L283.75 860.11 L286.28 860.11 L288.81 860.11 L291.33 860.11 L293.86 860.11 L296.38 860.11 L298.91 860.11 L301.43 860.11 L303.96 860.11 L306.48 860.11 L309.01 860.11 L311.54 860.11 L314.06 860.11 L316.59 860.11 L319.11 860.11 L321.64 860.11 L324.16 860.11 L326.69 860.11 L329.22 860.11 L331.74 860.11 L334.27 860.11 L336.79 860.11 L339.32 860.11 L341.84 860.11 L344.37 860.11 L346.89 860.11 L349.42 860.11 L351.95 860.11 L354.47 860.11 L357 860.11 L359.52 860.11 L362.05 860.11 L364.57 860.11 L367.1 860.11 L369.62 860.11 L372.15 860.11 L374.68 860.11 L377.2 860.11 L379.73 860.11 L382.25 860.11 L384.78 860.11 L387.3 860.11 L389.83 860.11 L392.36 860.11 L394.88 860.11 L397.41 860.11 L399.93 860.11 L402.46 860.11 L404.98 860.11 L407.51 860.11 L410.03 860.11 L412.56 860.11 L415.09 860.11 L417.61 860.11 L420.14 860.11 L422.66 860.11 L425.19 860.11 L427.71 860.11 L430.24 860.11 L432.76 860.11 L435.29 860.11 L437.82 860.11 L440.34 860.11 L442.87 860.11 L445.39 860.11 L447.92 860.11 L450.44 860.11 L452.97 860.11 L455.5 860.11 L458.02 860.11 L460.55 860.11 L463.07 860.11 L465.6 860.11 L468.12 860.11 L470.65 860.11 L473.17 860.11 L475.7 860.11"/></g>
</g>
<path d="M105.29 861.2 v-4.58 M105.29 497.2 v4.58 M180.89 861.2 v-4.58 M180.89 497.2 v4.58 M256.48 861.2 v-4.58 M256.48 497.2 v4.58 M332.07 861.2 v-4.58 M332.07 497.2 v4.58 M407.67 861.2 v-4.58 M407.67 497.2 v4.58 M29.7 824.8 h4.58 M475.7 824.8 h-4.58 M29.7 788.4 h4.58 M475.7 788.4 h-4.58 M29.7 752 h4.58 M475.7 752 h-4.58 M29.7 715.6 h4.58 M475.7 715.6 h-4.58 M29.7 679.2 h4.58 M475.7 679.2 h-4.58 M29.7 642.8 h4.58 M475.7 642.8 h-4.58 M29.7 606.4 h4.58 M475.7 606.4 h-4.58 M29.7 570 h4.58 M475.7 570 h-4.58 M29.7 533.6 h4.58 M475.7 533.6 h-4.58" stroke="#747474" stroke-width="1" fill="none"/>
<rect x="29.7" y="497.2" width="446" height="364" fill="none" stroke="#747474" stroke-width="1.2"/>
<g font-family="'Liberation Sans', Arial, Helvetica, sans-serif" font-size="15.81" fill="#2b2b2b">
<g text-anchor="end">
<text x="23.25" y="867.35">0</text>
<text x="23.25" y="830.95">0.1</text>
<text x="23.25" y="794.55">0.2</text>
<text x="23.25" y="758.15">0.3</text>
<text x="23.25" y="721.75">0.4</text>
<text x="23.25" y="685.35">0.5</text>
<text x="23.25" y="648.95">0.6</text>
<text x="23.25" y="612.55">0.7</text>
<text x="23.25" y="576.15">0.8</text>
<text x="23.25" y="539.75">0.9</text>
<text x="23.25" y="503.35">1</text>
</g><g text-anchor="middle">
<text x="29.7" y="882.62">0</text>
<text x="105.29" y="882.62">100</text>
<text x="180.89" y="882.62">200</text>
<text x="256.48" y="882.62">300</text>
<text x="332.07" y="882.62">400</text>
<text x="407.67" y="882.62">500</text>
</g></g>
</g>
<g id="plot-e">
<path d="M620.18 517.2 V862.2 M674.75 517.2 V862.2 M729.33 517.2 V862.2 M783.9 517.2 V862.2 M838.48 517.2 V862.2 M893.05 517.2 V862.2 M947.62 517.2 V862.2 M565.6 827.7 H1002.2 M565.6 793.2 H1002.2 M565.6 758.7 H1002.2 M565.6 724.2 H1002.2 M565.6 689.7 H1002.2 M565.6 655.2 H1002.2 M565.6 620.7 H1002.2 M565.6 586.2 H1002.2 M565.6 551.7 H1002.2" stroke="#efefef" stroke-width="1" fill="none"/>
<g clip-path="url(#clipe)">
<g fill="none" stroke="#c95f2e" stroke-width="3.2" stroke-linejoin="round" stroke-dasharray="12 11.9" stroke-dashoffset="18.9"><path d="M584.16 855.3 L586.67 850.47 L589.19 846.34 L591.71 842.89 L594.23 839.61 L596.75 836.38 L599.27 833.24 L601.78 830.27 L604.3 827.52 L606.82 825.03 L609.34 822.76 L611.86 820.57 L614.38 818.43 L616.89 816.37 L619.41 814.35 L621.93 812.34 L624.45 809.97 L626.97 807.42 L629.49 805.78 L632 805.64 L634.52 805.75 L637.04 805.93 L639.56 806.17 L642.08 806.45 L644.6 806.75 L647.11 807.17 L649.63 807.74 L652.15 808.45 L654.67 809.33 L657.19 810.71 L659.71 812.57 L662.22 814.68 L664.74 816.79 L667.26 818.68 L669.78 820.31 L672.3 821.89 L674.82 823.52 L677.33 825.25 L679.85 827.03 L682.37 828.8 L684.89 830.52 L687.41 832.21 L689.93 833.9 L692.44 835.49 L694.96 836.87 L697.48 838.14 L700 839.33 L702.52 840.43 L705.04 841.45 L707.55 842.38 L710.07 843.24 L712.59 844.02 L715.11 844.72 L717.63 845.34 L720.15 845.92 L722.66 846.45 L725.18 846.95 L727.7 847.42 L730.22 847.87 L732.74 848.3 L735.26 848.71 L737.77 849.1 L740.29 849.44 L742.81 849.75 L745.33 850.02 L747.85 850.28 L750.37 850.54 L752.88 850.81 L755.4 851.13 L757.92 851.47 L760.44 851.79 L762.96 852.07 L765.48 852.25 L767.99 852.38 L770.51 852.49 L773.03 852.59 L775.55 852.68 L778.07 852.78 L780.59 852.89 L783.1 853 L785.62 853.1 L788.14 853.2 L790.66 853.3 L793.18 853.41 L795.7 853.52 L798.21 853.63 L800.73 853.75 L803.25 853.88 L805.77 854.02 L808.29 854.17 L810.81 854.33 L813.32 854.5 L815.84 854.66 L818.36 854.82 L820.88 854.97 L823.4 855.11 L825.92 855.23 L828.43 855.34 L830.95 855.44 L833.47 855.53 L835.99 855.63 L838.51 855.73 L841.03 855.82 L843.54 855.91 L846.06 856 L848.58 856.09 L851.1 856.18 L853.62 856.26 L856.14 856.34 L858.65 856.42 L861.17 856.5 L863.69 856.57 L866.21 856.64 L868.73 856.71 L871.25 856.77 L873.76 856.83 L876.28 856.89 L878.8 856.94 L881.32 856.99 L883.84 857.03 L886.36 857.07 L888.87 857.11 L891.39 857.14 L893.91 857.17 L896.43 857.2 L898.95 857.23 L901.47 857.25 L903.98 857.28 L906.5 857.3 L909.02 857.33 L911.54 857.36 L914.06 857.38 L916.58 857.4 L919.09 857.43 L921.61 857.45 L924.13 857.47 L926.65 857.49 L929.17 857.52 L931.69 857.54 L934.2 857.56 L936.72 857.58 L939.24 857.6 L941.76 857.62 L944.28 857.63 L946.8 857.65 L949.31 857.67 L951.83 857.68 L954.35 857.7 L956.87 857.72 L959.39 857.73 L961.91 857.74 L964.42 857.76 L966.94 857.77 L969.46 857.78 L971.98 857.79 L974.5 857.8 L977.02 857.81 L979.53 857.82 L982.05 857.82 L984.57 857.83 L987.09 857.84 L989.61 857.84 L992.13 857.85 L994.64 857.85 L997.16 857.85 L999.68 857.85 L1002.2 857.85"/><path d="M584.16 855.99 L586.67 851.82 L589.19 848.19 L591.71 844.84 L594.23 841.6 L596.75 838.54 L599.27 835.75 L601.78 833.31 L604.3 831.28 L606.82 829.75 L609.34 828.6 L611.86 827.58 L614.38 826.44 L616.89 825 L619.41 823.37 L621.93 821.69 L624.45 820.1 L626.97 818.7 L629.49 817.26 L632 816.85 L634.52 817.65 L637.04 818.77 L639.56 819.76 L642.08 820.83 L644.6 821.94 L647.11 823.09 L649.63 824.25 L652.15 825.38 L654.67 826.54 L657.19 827.83 L659.71 829.35 L662.22 831.37 L664.74 833.69 L667.26 835.95 L669.78 837.84 L672.3 839.44 L674.82 840.9 L677.33 842.28 L679.85 843.63 L682.37 844.93 L684.89 846.16 L687.41 847.32 L689.93 848.41 L692.44 849.47 L694.96 850.47 L697.48 851.41 L700 852.25 L702.52 853 L705.04 853.72 L707.55 854.35 L710.07 854.85 L712.59 855.2 L715.11 855.49 L717.63 855.74 L720.15 855.95 L722.66 856.15 L725.18 856.35 L727.7 856.55 L730.22 856.74 L732.74 856.93 L735.26 857.09 L737.77 857.24 L740.29 857.37 L742.81 857.46 L745.33 857.52 L747.85 857.58 L750.37 857.63 L752.88 857.68 L755.4 857.72 L757.92 857.77 L760.44 857.81 L762.96 857.86 L765.48 857.9 L767.99 857.94 L770.51 857.98 L773.03 858.01 L775.55 858.05 L778.07 858.08 L780.59 858.11 L783.1 858.14 L785.62 858.17 L788.14 858.2 L790.66 858.22 L793.18 858.25 L795.7 858.27 L798.21 858.29 L800.73 858.31 L803.25 858.33 L805.77 858.34 L808.29 858.36 L810.81 858.37 L813.32 858.38 L815.84 858.39 L818.36 858.39 L820.88 858.4 L823.4 858.4 L825.92 858.4 L828.43 858.4 L830.95 858.4 L833.47 858.4 L835.99 858.4 L838.51 858.4 L841.03 858.4 L843.54 858.4 L846.06 858.4 L848.58 858.4 L851.1 858.4 L853.62 858.4 L856.14 858.4 L858.65 858.4 L861.17 858.4 L863.69 858.4 L866.21 858.4 L868.73 858.4 L871.25 858.4 L873.76 858.4 L876.28 858.4 L878.8 858.4 L881.32 858.39 L883.84 858.39 L886.36 858.39 L888.87 858.39 L891.39 858.39 L893.91 858.39 L896.43 858.38 L898.95 858.38 L901.47 858.38 L903.98 858.38 L906.5 858.37 L909.02 858.37 L911.54 858.37 L914.06 858.36 L916.58 858.36 L919.09 858.36 L921.61 858.35 L924.13 858.35 L926.65 858.34 L929.17 858.34 L931.69 858.33 L934.2 858.33 L936.72 858.32 L939.24 858.31 L941.76 858.31 L944.28 858.3 L946.8 858.3 L949.31 858.29 L951.83 858.28 L954.35 858.27 L956.87 858.26 L959.39 858.26 L961.91 858.25 L964.42 858.24 L966.94 858.23 L969.46 858.22 L971.98 858.21 L974.5 858.2 L977.02 858.19 L979.53 858.18 L982.05 858.17 L984.57 858.15 L987.09 858.14 L989.61 858.13 L992.13 858.12 L994.64 858.1 L997.16 858.09 L999.68 858.07 L1002.2 858.06"/><path d="M584.16 858.75 L586.67 858.1 L589.19 857.27 L591.71 856.21 L594.23 854.96 L596.75 853.61 L599.27 852.2 L601.78 850.55 L604.3 848.74 L606.82 846.96 L609.34 845.44 L611.86 844.32 L614.38 843.41 L616.89 842.6 L619.41 841.82 L621.93 840.95 L624.45 839.93 L626.97 838.94 L629.49 838.14 L632 837.72 L634.52 837.59 L637.04 837.49 L639.56 837.41 L642.08 837.37 L644.6 837.36 L647.11 837.41 L649.63 837.52 L652.15 837.68 L654.67 837.88 L657.19 838.13 L659.71 838.69 L662.22 839.54 L664.74 840.53 L667.26 841.48 L669.78 842.39 L672.3 843.35 L674.82 844.35 L677.33 845.35 L679.85 846.33 L682.37 847.29 L684.89 848.27 L687.41 849.24 L689.93 850.18 L692.44 851.06 L694.96 851.85 L697.48 852.6 L700 853.35 L702.52 854.05 L705.04 854.69 L707.55 855.25 L710.07 855.71 L712.59 856.08 L715.11 856.43 L717.63 856.76 L720.15 857.06 L722.66 857.31 L725.18 857.51 L727.7 857.66 L730.22 857.74 L732.74 857.8 L735.26 857.86 L737.77 857.92 L740.29 857.97 L742.81 858.02 L745.33 858.06 L747.85 858.11 L750.37 858.15 L752.88 858.19 L755.4 858.22 L757.92 858.25 L760.44 858.28 L762.96 858.31 L765.48 858.33 L767.99 858.35 L770.51 858.36 L773.03 858.38 L775.55 858.39 L778.07 858.4 L780.59 858.4 L783.1 858.4 L785.62 858.4 L788.14 858.4 L790.66 858.4 L793.18 858.4 L795.7 858.4 L798.21 858.4 L800.73 858.4 L803.25 858.4 L805.77 858.4 L808.29 858.4 L810.81 858.4 L813.32 858.4 L815.84 858.4 L818.36 858.4 L820.88 858.4 L823.4 858.4 L825.92 858.4 L828.43 858.4 L830.95 858.4 L833.47 858.4 L835.99 858.4 L838.51 858.4 L841.03 858.4 L843.54 858.4 L846.06 858.4 L848.58 858.4 L851.1 858.39 L853.62 858.39 L856.14 858.39 L858.65 858.39 L861.17 858.39 L863.69 858.39 L866.21 858.39 L868.73 858.38 L871.25 858.38 L873.76 858.38 L876.28 858.38 L878.8 858.38 L881.32 858.37 L883.84 858.37 L886.36 858.37 L888.87 858.37 L891.39 858.36 L893.91 858.36 L896.43 858.36 L898.95 858.35 L901.47 858.35 L903.98 858.35 L906.5 858.34 L909.02 858.34 L911.54 858.34 L914.06 858.33 L916.58 858.33 L919.09 858.32 L921.61 858.32 L924.13 858.31 L926.65 858.31 L929.17 858.3 L931.69 858.3 L934.2 858.29 L936.72 858.29 L939.24 858.28 L941.76 858.27 L944.28 858.27 L946.8 858.26 L949.31 858.25 L951.83 858.25 L954.35 858.24 L956.87 858.23 L959.39 858.23 L961.91 858.22 L964.42 858.21 L966.94 858.2 L969.46 858.19 L971.98 858.18 L974.5 858.18 L977.02 858.17 L979.53 858.16 L982.05 858.15 L984.57 858.14 L987.09 858.13 L989.61 858.12 L992.13 858.11 L994.64 858.09 L997.16 858.08 L999.68 858.07 L1002.2 858.06"/><path d="M584.16 859.44 L586.67 858.96 L589.19 858.41 L591.71 857.81 L594.23 857.15 L596.75 856.45 L599.27 855.71 L601.78 854.82 L604.3 853.84 L606.82 852.86 L609.34 851.94 L611.86 851.15 L614.38 850.4 L616.89 849.7 L619.41 849.04 L621.93 848.45 L624.45 847.85 L626.97 847.22 L629.49 846.65 L632 846.23 L634.52 846.05 L637.04 846.05 L639.56 846.05 L642.08 846.05 L644.6 846.05 L647.11 846.09 L649.63 846.31 L652.15 846.67 L654.67 847.11 L657.19 847.55 L659.71 847.97 L662.22 848.46 L664.74 848.98 L667.26 849.53 L669.78 850.07 L672.3 850.64 L674.82 851.24 L677.33 851.84 L679.85 852.42 L682.37 852.96 L684.89 853.43 L687.41 853.88 L689.93 854.3 L692.44 854.7 L694.96 855.07 L697.48 855.41 L700 855.71 L702.52 855.98 L705.04 856.25 L707.55 856.51 L710.07 856.76 L712.59 857 L715.11 857.23 L717.63 857.44 L720.15 857.62 L722.66 857.78 L725.18 857.91 L727.7 858.01 L730.22 858.08 L732.74 858.14 L735.26 858.19 L737.77 858.25 L740.29 858.3 L742.81 858.35 L745.33 858.39 L747.85 858.44 L750.37 858.48 L752.88 858.51 L755.4 858.55 L757.92 858.58 L760.44 858.61 L762.96 858.64 L765.48 858.66 L767.99 858.69 L770.51 858.7 L773.03 858.72 L775.55 858.73 L778.07 858.74 L780.59 858.75 L783.1 858.75 L785.62 858.75 L788.14 858.75 L790.66 858.75 L793.18 858.75 L795.7 858.75 L798.21 858.75 L800.73 858.75 L803.25 858.75 L805.77 858.75 L808.29 858.75 L810.81 858.75 L813.32 858.75 L815.84 858.75 L818.36 858.75 L820.88 858.75 L823.4 858.75 L825.92 858.75 L828.43 858.75 L830.95 858.75 L833.47 858.75 L835.99 858.75 L838.51 858.74 L841.03 858.74 L843.54 858.74 L846.06 858.74 L848.58 858.74 L851.1 858.74 L853.62 858.74 L856.14 858.74 L858.65 858.74 L861.17 858.73 L863.69 858.73 L866.21 858.73 L868.73 858.73 L871.25 858.73 L873.76 858.73 L876.28 858.72 L878.8 858.72 L881.32 858.72 L883.84 858.72 L886.36 858.71 L888.87 858.71 L891.39 858.71 L893.91 858.71 L896.43 858.7 L898.95 858.7 L901.47 858.7 L903.98 858.69 L906.5 858.69 L909.02 858.69 L911.54 858.68 L914.06 858.68 L916.58 858.67 L919.09 858.67 L921.61 858.66 L924.13 858.66 L926.65 858.65 L929.17 858.65 L931.69 858.64 L934.2 858.64 L936.72 858.63 L939.24 858.63 L941.76 858.62 L944.28 858.61 L946.8 858.61 L949.31 858.6 L951.83 858.59 L954.35 858.59 L956.87 858.58 L959.39 858.57 L961.91 858.56 L964.42 858.55 L966.94 858.55 L969.46 858.54 L971.98 858.53 L974.5 858.52 L977.02 858.51 L979.53 858.5 L982.05 858.49 L984.57 858.48 L987.09 858.47 L989.61 858.46 L992.13 858.45 L994.64 858.44 L997.16 858.43 L999.68 858.42 L1002.2 858.41"/><path d="M584.16 860.13 L586.67 859.6 L589.19 859.1 L591.71 858.67 L594.23 858.32 L596.75 857.99 L599.27 857.66 L601.78 857.36 L604.3 857.09 L606.82 856.88 L609.34 856.73 L611.86 856.68 L614.38 856.69 L616.89 856.73 L619.41 856.79 L621.93 856.87 L624.45 856.96 L626.97 857.06 L629.49 857.17 L632 857.28 L634.52 857.39 L637.04 857.5 L639.56 857.61 L642.08 857.73 L644.6 857.87 L647.11 858.01 L649.63 858.16 L652.15 858.3 L654.67 858.45 L657.19 858.58 L659.71 858.71 L662.22 858.83 L664.74 858.95 L667.26 859.07 L669.78 859.19 L672.3 859.3 L674.82 859.41 L677.33 859.5 L679.85 859.59 L682.37 859.66 L684.89 859.71 L687.41 859.76 L689.93 859.82 L692.44 859.86 L694.96 859.91 L697.48 859.95 L700 859.98 L702.52 860.01 L705.04 860.02 L707.55 860.03 L710.07 860.01 L712.59 859.97 L715.11 859.9 L717.63 859.82 L720.15 859.73 L722.66 859.62 L725.18 859.51 L727.7 859.4 L730.22 859.3 L732.74 859.2 L735.26 859.11 L737.77 859.04 L740.29 858.96 L742.81 858.89 L745.33 858.81 L747.85 858.74 L750.37 858.67 L752.88 858.6 L755.4 858.54 L757.92 858.48 L760.44 858.43 L762.96 858.39 L765.48 858.35 L767.99 858.31 L770.51 858.28 L773.03 858.24 L775.55 858.2 L778.07 858.17 L780.59 858.14 L783.1 858.1 L785.62 858.07 L788.14 858.04 L790.66 858.01 L793.18 857.99 L795.7 857.96 L798.21 857.94 L800.73 857.91 L803.25 857.89 L805.77 857.88 L808.29 857.86 L810.81 857.85 L813.32 857.84 L815.84 857.83 L818.36 857.82 L820.88 857.82 L823.4 857.81 L825.92 857.81 L828.43 857.81 L830.95 857.81 L833.47 857.8 L835.99 857.8 L838.51 857.8 L841.03 857.79 L843.54 857.79 L846.06 857.79 L848.58 857.79 L851.1 857.78 L853.62 857.78 L856.14 857.78 L858.65 857.78 L861.17 857.77 L863.69 857.77 L866.21 857.77 L868.73 857.77 L871.25 857.76 L873.76 857.76 L876.28 857.76 L878.8 857.76 L881.32 857.76 L883.84 857.75 L886.36 857.75 L888.87 857.75 L891.39 857.75 L893.91 857.75 L896.43 857.75 L898.95 857.74 L901.47 857.74 L903.98 857.74 L906.5 857.74 L909.02 857.74 L911.54 857.74 L914.06 857.74 L916.58 857.73 L919.09 857.73 L921.61 857.73 L924.13 857.73 L926.65 857.73 L929.17 857.73 L931.69 857.73 L934.2 857.73 L936.72 857.73 L939.24 857.73 L941.76 857.72 L944.28 857.72 L946.8 857.72 L949.31 857.72 L951.83 857.72 L954.35 857.72 L956.87 857.72 L959.39 857.72 L961.91 857.72 L964.42 857.72 L966.94 857.72 L969.46 857.72 L971.98 857.72 L974.5 857.72 L977.02 857.72 L979.53 857.72 L982.05 857.72 L984.57 857.72 L987.09 857.72 L989.61 857.72 L992.13 857.72 L994.64 857.72 L997.16 857.72 L999.68 857.72 L1002.2 857.72"/></g>
<g fill="none" stroke="#2f72bc" stroke-width="3.25" stroke-linejoin="round"><path d="M582.3 857.16 L584.83 856.32 L587.36 855.48 L589.89 854.61 L592.42 853.71 L594.95 852.79 L597.48 851.83 L600.01 850.85 L602.54 849.84 L605.07 848.8 L607.6 847.74 L610.12 846.66 L612.65 845.55 L615.18 844.42 L617.71 843.27 L620.24 842.09 L622.77 840.89 L625.3 839.66 L627.83 838.39 L630.36 837.09 L632.89 835.74 L635.42 834.35 L637.95 832.91 L640.48 831.41 L643.01 829.85 L645.54 828.22 L648.07 826.52 L650.6 824.73 L653.13 822.86 L655.66 820.9 L658.19 818.85 L660.72 816.73 L663.24 814.54 L665.77 812.28 L668.3 809.97 L670.83 807.6 L673.36 805.18 L675.89 802.71 L678.42 800.18 L680.95 797.58 L683.48 794.92 L686.01 792.18 L688.54 789.36 L691.07 786.47 L693.6 783.49 L696.13 780.42 L698.66 777.25 L701.19 773.99 L703.72 770.62 L706.25 767.16 L708.78 763.61 L711.31 759.98 L713.83 756.28 L716.36 752.51 L718.89 748.68 L721.42 744.78 L723.95 740.79 L726.48 736.72 L729.01 732.54 L731.54 728.26 L734.07 723.87 L736.6 719.39 L739.13 714.82 L741.66 710.16 L744.19 705.44 L746.72 700.65 L749.25 695.79 L751.78 690.87 L754.31 685.89 L756.84 680.87 L759.37 675.82 L761.9 670.75 L764.43 665.67 L766.95 660.59 L769.48 655.51 L772.01 650.46 L774.54 645.47 L777.07 640.58 L779.6 635.83 L782.13 631.24 L784.66 626.83 L787.19 622.61 L789.72 618.56 L792.25 614.68 L794.78 610.95 L797.31 607.37 L799.84 603.93 L802.37 600.62 L804.9 597.45 L807.43 594.41 L809.96 591.51 L812.49 588.78 L815.02 586.22 L817.55 583.84 L820.07 581.64 L822.6 579.6 L825.13 577.71 L827.66 575.94 L830.19 574.29 L832.72 572.75 L835.25 571.3 L837.78 569.94 L840.31 568.66 L842.84 567.44 L845.37 566.28 L847.9 565.17 L850.43 564.13 L852.96 563.14 L855.49 562.22 L858.02 561.37 L860.55 560.58 L863.08 559.87 L865.61 559.23 L868.14 558.64 L870.67 558.1 L873.19 557.6 L875.72 557.14 L878.25 556.72 L880.78 556.32 L883.31 555.96 L885.84 555.63 L888.37 555.34 L890.9 555.07 L893.43 554.83 L895.96 554.61 L898.49 554.41 L901.02 554.22 L903.55 554.04 L906.08 553.88 L908.61 553.72 L911.14 553.57 L913.67 553.43 L916.2 553.31 L918.73 553.19 L921.26 553.09 L923.78 552.99 L926.31 552.91 L928.84 552.84 L931.37 552.78 L933.9 552.72 L936.43 552.67 L938.96 552.63 L941.49 552.58 L944.02 552.54 L946.55 552.5 L949.08 552.47 L951.61 552.43 L954.14 552.4 L956.67 552.36 L959.2 552.33 L961.73 552.3 L964.26 552.27 L966.79 552.24 L969.32 552.22 L971.85 552.19 L974.38 552.17 L976.9 552.15 L979.43 552.13 L981.96 552.12 L984.49 552.1 L987.02 552.09 L989.55 552.08 L992.08 552.07 L994.61 552.06 L997.14 552.05 L999.67 552.05 L1002.2 552.05"/><path d="M582.3 857.51 L584.83 856.72 L587.36 855.92 L589.89 855.1 L592.42 854.26 L594.95 853.38 L597.48 852.48 L600.01 851.54 L602.54 850.57 L605.07 849.58 L607.6 848.57 L610.12 847.52 L612.65 846.46 L615.18 845.37 L617.71 844.26 L620.24 843.12 L622.77 841.96 L625.3 840.76 L627.83 839.52 L630.36 838.25 L632.89 836.93 L635.42 835.57 L637.95 834.15 L640.48 832.69 L643.01 831.17 L645.54 829.59 L648.07 827.94 L650.6 826.22 L653.13 824.42 L655.66 822.55 L658.19 820.6 L660.72 818.58 L663.24 816.49 L665.77 814.33 L668.3 812.12 L670.83 809.84 L673.36 807.51 L675.89 805.11 L678.42 802.64 L680.95 800.1 L683.48 797.47 L686.01 794.77 L688.54 791.99 L691.07 789.13 L693.6 786.19 L696.13 783.17 L698.66 780.06 L701.19 776.87 L703.72 773.58 L706.25 770.2 L708.78 766.73 L711.31 763.19 L713.83 759.57 L716.36 755.88 L718.89 752.12 L721.42 748.28 L723.95 744.35 L726.48 740.32 L729.01 736.2 L731.54 731.98 L734.07 727.65 L736.6 723.23 L739.13 718.73 L741.66 714.14 L744.19 709.47 L746.72 704.72 L749.25 699.9 L751.78 695.01 L754.31 690.04 L756.84 685.03 L759.37 679.98 L761.9 674.91 L764.43 669.83 L766.95 664.76 L769.48 659.69 L772.01 654.65 L774.54 649.67 L777.07 644.77 L779.6 639.99 L782.13 635.35 L784.66 630.87 L787.19 626.55 L789.72 622.38 L792.25 618.37 L794.78 614.49 L797.31 610.76 L799.84 607.16 L802.37 603.69 L804.9 600.35 L807.43 597.15 L809.96 594.1 L812.49 591.22 L815.02 588.51 L817.55 585.99 L820.07 583.66 L822.6 581.49 L825.13 579.48 L827.66 577.6 L830.19 575.84 L832.72 574.2 L835.25 572.65 L837.78 571.2 L840.31 569.83 L842.84 568.53 L845.37 567.3 L847.9 566.12 L850.43 565 L852.96 563.95 L855.49 562.97 L858.02 562.06 L860.55 561.23 L863.08 560.48 L865.61 559.79 L868.14 559.18 L870.67 558.61 L873.19 558.09 L875.72 557.61 L878.25 557.17 L880.78 556.76 L883.31 556.38 L885.84 556.03 L888.37 555.72 L890.9 555.43 L893.43 555.17 L895.96 554.92 L898.49 554.69 L901.02 554.48 L903.55 554.27 L906.08 554.07 L908.61 553.89 L911.14 553.72 L913.67 553.55 L916.2 553.4 L918.73 553.26 L921.26 553.14 L923.78 553.03 L926.31 552.94 L928.84 552.85 L931.37 552.78 L933.9 552.72 L936.43 552.67 L938.96 552.62 L941.49 552.58 L944.02 552.54 L946.55 552.5 L949.08 552.46 L951.61 552.43 L954.14 552.39 L956.67 552.36 L959.2 552.33 L961.73 552.3 L964.26 552.27 L966.79 552.24 L969.32 552.21 L971.85 552.19 L974.38 552.17 L976.9 552.15 L979.43 552.13 L981.96 552.11 L984.49 552.1 L987.02 552.09 L989.55 552.08 L992.08 552.07 L994.61 552.06 L997.14 552.05 L999.67 552.05 L1002.2 552.05"/><path d="M582.3 860.48 L584.83 860.36 L587.36 860.25 L589.89 860.13 L592.42 860 L594.95 859.87 L597.48 859.73 L600.01 859.58 L602.54 859.42 L605.07 859.26 L607.6 859.09 L610.12 858.91 L612.65 858.73 L615.18 858.54 L617.71 858.34 L620.24 858.14 L622.77 857.93 L625.3 857.72 L627.83 857.5 L630.36 857.27 L632.89 857.03 L635.42 856.78 L637.95 856.52 L640.48 856.26 L643.01 855.98 L645.54 855.69 L648.07 855.4 L650.6 855.09 L653.13 854.77 L655.66 854.44 L658.19 854.1 L660.72 853.74 L663.24 853.37 L665.77 852.99 L668.3 852.6 L670.83 852.19 L673.36 851.75 L675.89 851.29 L678.42 850.8 L680.95 850.27 L683.48 849.7 L686.01 849.1 L688.54 848.46 L691.07 847.79 L693.6 847.08 L696.13 846.35 L698.66 845.6 L701.19 844.81 L703.72 844.01 L706.25 843.17 L708.78 842.3 L711.31 841.4 L713.83 840.46 L716.36 839.48 L718.89 838.46 L721.42 837.4 L723.95 836.3 L726.48 835.16 L729.01 833.99 L731.54 832.77 L734.07 831.51 L736.6 830.2 L739.13 828.85 L741.66 827.44 L744.19 825.99 L746.72 824.47 L749.25 822.9 L751.78 821.27 L754.31 819.56 L756.84 817.78 L759.37 815.91 L761.9 813.94 L764.43 811.87 L766.95 809.71 L769.48 807.46 L772.01 805.13 L774.54 802.73 L777.07 800.28 L779.6 797.79 L782.13 795.26 L784.66 792.7 L787.19 790.1 L789.72 787.45 L792.25 784.76 L794.78 782 L797.31 779.17 L799.84 776.25 L802.37 773.24 L804.9 770.13 L807.43 766.9 L809.96 763.57 L812.49 760.12 L815.02 756.58 L817.55 752.95 L820.07 749.26 L822.6 745.5 L825.13 741.69 L827.66 737.82 L830.19 733.89 L832.72 729.9 L835.25 725.84 L837.78 721.72 L840.31 717.54 L842.84 713.28 L845.37 708.97 L847.9 704.58 L850.43 700.13 L852.96 695.61 L855.49 691.02 L858.02 686.35 L860.55 681.63 L863.08 676.88 L865.61 672.13 L868.14 667.43 L870.67 662.8 L873.19 658.26 L875.72 653.83 L878.25 649.48 L880.78 645.21 L883.31 640.98 L885.84 636.76 L888.37 632.52 L890.9 628.26 L893.43 623.97 L895.96 619.68 L898.49 615.46 L901.02 611.39 L903.55 607.53 L906.08 603.94 L908.61 600.61 L911.14 597.53 L913.67 594.67 L916.2 592.01 L918.73 589.52 L921.26 587.18 L923.78 584.98 L926.31 582.9 L928.84 580.93 L931.37 579.05 L933.9 577.25 L936.43 575.5 L938.96 573.81 L941.49 572.17 L944.02 570.6 L946.55 569.11 L949.08 567.7 L951.61 566.39 L954.14 565.19 L956.67 564.09 L959.2 563.09 L961.73 562.16 L964.26 561.3 L966.79 560.51 L969.32 559.77 L971.85 559.07 L974.38 558.41 L976.9 557.79 L979.43 557.19 L981.96 556.62 L984.49 556.07 L987.02 555.55 L989.55 555.07 L992.08 554.61 L994.61 554.19 L997.14 553.8 L999.67 553.43 L1002.2 553.08"/><path d="M582.3 860.82 L584.83 860.72 L587.36 860.62 L589.89 860.51 L592.42 860.39 L594.95 860.27 L597.48 860.15 L600.01 860.01 L602.54 859.87 L605.07 859.73 L607.6 859.57 L610.12 859.42 L612.65 859.25 L615.18 859.08 L617.71 858.91 L620.24 858.73 L622.77 858.55 L625.3 858.36 L627.83 858.16 L630.36 857.95 L632.89 857.74 L635.42 857.52 L637.95 857.3 L640.48 857.06 L643.01 856.82 L645.54 856.57 L648.07 856.3 L650.6 856.03 L653.13 855.75 L655.66 855.46 L658.19 855.16 L660.72 854.85 L663.24 854.53 L665.77 854.19 L668.3 853.84 L670.83 853.48 L673.36 853.1 L675.89 852.69 L678.42 852.25 L680.95 851.78 L683.48 851.27 L686.01 850.73 L688.54 850.16 L691.07 849.57 L693.6 848.95 L696.13 848.32 L698.66 847.67 L701.19 847.02 L703.72 846.36 L706.25 845.7 L708.78 845.03 L711.31 844.34 L713.83 843.64 L716.36 842.93 L718.89 842.19 L721.42 841.41 L723.95 840.61 L726.48 839.76 L729.01 838.87 L731.54 837.93 L734.07 836.94 L736.6 835.9 L739.13 834.81 L741.66 833.67 L744.19 832.48 L746.72 831.25 L749.25 829.98 L751.78 828.68 L754.31 827.34 L756.84 825.96 L759.37 824.55 L761.9 823.09 L764.43 821.59 L766.95 820.04 L769.48 818.45 L772.01 816.82 L774.54 815.14 L777.07 813.43 L779.6 811.68 L782.13 809.91 L784.66 808.1 L787.19 806.26 L789.72 804.38 L792.25 802.47 L794.78 800.5 L797.31 798.49 L799.84 796.42 L802.37 794.3 L804.9 792.11 L807.43 789.84 L809.96 787.51 L812.49 785.1 L815.02 782.61 L817.55 780.05 L820.07 777.39 L822.6 774.66 L825.13 771.82 L827.66 768.89 L830.19 765.84 L832.72 762.68 L835.25 759.4 L837.78 756.02 L840.31 752.55 L842.84 749.01 L845.37 745.41 L847.9 741.75 L850.43 738.05 L852.96 734.29 L855.49 730.47 L858.02 726.6 L860.55 722.67 L863.08 718.68 L865.61 714.62 L868.14 710.48 L870.67 706.24 L873.19 701.89 L875.72 697.41 L878.25 692.8 L880.78 688.06 L883.31 683.22 L885.84 678.31 L888.37 673.39 L890.9 668.51 L893.43 663.69 L895.96 658.97 L898.49 654.36 L901.02 649.86 L903.55 645.48 L906.08 641.2 L908.61 637.02 L911.14 632.96 L913.67 628.99 L916.2 625.11 L918.73 621.3 L921.26 617.54 L923.78 613.8 L926.31 610.09 L928.84 606.42 L931.37 602.86 L933.9 599.45 L936.43 596.26 L938.96 593.3 L941.49 590.58 L944.02 588.09 L946.55 585.78 L949.08 583.63 L951.61 581.62 L954.14 579.73 L956.67 577.95 L959.2 576.28 L961.73 574.71 L964.26 573.23 L966.79 571.86 L969.32 570.58 L971.85 569.39 L974.38 568.28 L976.9 567.24 L979.43 566.25 L981.96 565.3 L984.49 564.36 L987.02 563.42 L989.55 562.48 L992.08 561.54 L994.61 560.59 L997.14 559.64 L999.67 558.69 L1002.2 557.74"/><path d="M582.3 861.17 L584.83 861.08 L587.36 860.99 L589.89 860.89 L592.42 860.79 L594.95 860.69 L597.48 860.58 L600.01 860.47 L602.54 860.36 L605.07 860.24 L607.6 860.11 L610.12 859.98 L612.65 859.85 L615.18 859.71 L617.71 859.57 L620.24 859.43 L622.77 859.28 L625.3 859.12 L627.83 858.96 L630.36 858.8 L632.89 858.63 L635.42 858.46 L637.95 858.28 L640.48 858.1 L643.01 857.91 L645.54 857.71 L648.07 857.51 L650.6 857.3 L653.13 857.09 L655.66 856.87 L658.19 856.64 L660.72 856.4 L663.24 856.16 L665.77 855.92 L668.3 855.66 L670.83 855.39 L673.36 855.12 L675.89 854.82 L678.42 854.52 L680.95 854.19 L683.48 853.84 L686.01 853.47 L688.54 853.09 L691.07 852.7 L693.6 852.29 L696.13 851.88 L698.66 851.46 L701.19 851.05 L703.72 850.63 L706.25 850.22 L708.78 849.81 L711.31 849.39 L713.83 848.97 L716.36 848.55 L718.89 848.12 L721.42 847.67 L723.95 847.2 L726.48 846.72 L729.01 846.21 L731.54 845.69 L734.07 845.14 L736.6 844.56 L739.13 843.96 L741.66 843.34 L744.19 842.7 L746.72 842.03 L749.25 841.33 L751.78 840.61 L754.31 839.87 L756.84 839.09 L759.37 838.28 L761.9 837.43 L764.43 836.54 L766.95 835.61 L769.48 834.65 L772.01 833.66 L774.54 832.64 L777.07 831.6 L779.6 830.54 L782.13 829.47 L784.66 828.38 L787.19 827.28 L789.72 826.17 L792.25 825.02 L794.78 823.85 L797.31 822.64 L799.84 821.39 L802.37 820.07 L804.9 818.7 L807.43 817.26 L809.96 815.75 L812.49 814.17 L815.02 812.52 L817.55 810.81 L820.07 809.02 L822.6 807.17 L825.13 805.24 L827.66 803.24 L830.19 801.17 L832.72 799.04 L835.25 796.85 L837.78 794.63 L840.31 792.38 L842.84 790.11 L845.37 787.81 L847.9 785.46 L850.43 783.04 L852.96 780.54 L855.49 777.93 L858.02 775.21 L860.55 772.39 L863.08 769.46 L865.61 766.44 L868.14 763.34 L870.67 760.18 L873.19 756.96 L875.72 753.68 L878.25 750.35 L880.78 746.97 L883.31 743.53 L885.84 740.02 L888.37 736.46 L890.9 732.83 L893.43 729.14 L895.96 725.38 L898.49 721.54 L901.02 717.63 L903.55 713.65 L906.08 709.61 L908.61 705.5 L911.14 701.32 L913.67 697.08 L916.2 692.79 L918.73 688.45 L921.26 684.09 L923.78 679.7 L926.31 675.28 L928.84 670.86 L931.37 666.42 L933.9 661.98 L936.43 657.55 L938.96 653.17 L941.49 648.85 L944.02 644.6 L946.55 640.44 L949.08 636.37 L951.61 632.37 L954.14 628.45 L956.67 624.61 L959.2 620.86 L961.73 617.22 L964.26 613.71 L966.79 610.33 L969.32 607.11 L971.85 604.04 L974.38 601.1 L976.9 598.3 L979.43 595.6 L981.96 593.01 L984.49 590.52 L987.02 588.12 L989.55 585.83 L992.08 583.65 L994.61 581.58 L997.14 579.6 L999.67 577.7 L1002.2 575.85"/></g>
</g>
<path d="M620.18 862.2 v-4.34 M620.18 517.2 v4.34 M674.75 862.2 v-4.34 M674.75 517.2 v4.34 M729.33 862.2 v-4.34 M729.33 517.2 v4.34 M783.9 862.2 v-4.34 M783.9 517.2 v4.34 M838.48 862.2 v-4.34 M838.48 517.2 v4.34 M893.05 862.2 v-4.34 M893.05 517.2 v4.34 M947.62 862.2 v-4.34 M947.62 517.2 v4.34 M565.6 827.7 h4.34 M1002.2 827.7 h-4.34 M565.6 793.2 h4.34 M1002.2 793.2 h-4.34 M565.6 758.7 h4.34 M1002.2 758.7 h-4.34 M565.6 724.2 h4.34 M1002.2 724.2 h-4.34 M565.6 689.7 h4.34 M1002.2 689.7 h-4.34 M565.6 655.2 h4.34 M1002.2 655.2 h-4.34 M565.6 620.7 h4.34 M1002.2 620.7 h-4.34 M565.6 586.2 h4.34 M1002.2 586.2 h-4.34 M565.6 551.7 h4.34 M1002.2 551.7 h-4.34" stroke="#747474" stroke-width="1" fill="none"/>
<rect x="565.6" y="517.2" width="436.6" height="345" fill="none" stroke="#747474" stroke-width="1.2"/>
<g font-family="'Liberation Sans', Arial, Helvetica, sans-serif" font-size="14.98" fill="#2b2b2b">
<g text-anchor="end">
<text x="559.49" y="868.04">0</text>
<text x="559.49" y="833.54">0.1</text>
<text x="559.49" y="799.04">0.2</text>
<text x="559.49" y="764.54">0.3</text>
<text x="559.49" y="730.04">0.4</text>
<text x="559.49" y="695.54">0.5</text>
<text x="559.49" y="661.04">0.6</text>
<text x="559.49" y="626.54">0.7</text>
<text x="559.49" y="592.04">0.8</text>
<text x="559.49" y="557.54">0.9</text>
<text x="559.49" y="523.04">1</text>
</g><g text-anchor="middle">
<text x="565.6" y="882.51">0</text>
<text x="620.18" y="882.51">50</text>
<text x="674.75" y="882.51">100</text>
<text x="729.33" y="882.51">150</text>
<text x="783.9" y="882.51">200</text>
<text x="838.48" y="882.51">250</text>
<text x="893.05" y="882.51">300</text>
<text x="947.62" y="882.51">350</text>
<text x="1002.2" y="882.51">400</text>
</g></g>
</g>
<g id="plot-f">
<path d="M1174.3 512.9 V861.5 M1246.6 512.9 V861.5 M1318.9 512.9 V861.5 M1391.2 512.9 V861.5 M1463.5 512.9 V861.5 M1102 826.64 H1535.8 M1102 791.78 H1535.8 M1102 756.92 H1535.8 M1102 722.06 H1535.8 M1102 687.2 H1535.8 M1102 652.34 H1535.8 M1102 617.48 H1535.8 M1102 582.62 H1535.8 M1102 547.76 H1535.8" stroke="#efefef" stroke-width="1" fill="none"/>
<g clip-path="url(#clipf)">
<g fill="none" stroke="#c95f2e" stroke-width="3.2" stroke-linejoin="round" stroke-dasharray="12.1 12.1" stroke-dashoffset="19.2"><path d="M1121.52 858.01 L1125.57 837.8 L1132.29 805.72 L1139.02 780.62 L1144.87 758.84 L1152.47 718.57 L1160.85 668.38 L1165.05 644.67 L1168.44 621.31 L1172.64 596.01 L1181.02 574.25 L1190.21 550.69 L1192.81 541.49 L1202.86 533.82 L1214.64 530.68 L1229.75 528.94 L1242.98 528.34"/><path d="M1121.52 858.01 L1127.23 834.31 L1135.62 814.19 L1143.93 790.73 L1150.73 768.91 L1154.06 745.42 L1158.39 720.32 L1162.52 695.22 L1165.91 673.26 L1170.11 649.9 L1174.3 624.45 L1180.08 602.84 L1186.08 579.13 L1191.94 554.03 L1194.54 545.67 L1207.92 536.4 L1217.68 531.38 L1235.03 528.94 L1250.21 528.34"/><path d="M1122.82 858.01 L1128.53 834.31 L1136.92 814.19 L1145.24 790.73 L1152.03 768.91 L1155.36 745.42 L1159.7 720.32 L1163.82 695.22 L1167.21 673.26 L1171.41 649.9 L1175.6 624.45 L1181.39 602.84 L1187.39 579.13 L1193.24 554.03 L1195.85 545.67 L1209.22 536.4 L1218.98 531.38 L1236.33 528.94 L1251.52 528.34"/><path d="M1121.52 858.71 L1141.77 851.04 L1148.99 841.04 L1159.12 819.32 L1170.9 797.36 L1175.96 775.74 L1180.08 750.44 L1185.14 725.55 L1190.21 701.84 L1194.54 680.23 L1199.61 656.52 L1204.59 631.42 L1209.58 607.72 L1213.85 582.62 L1218.04 560.66 L1223.03 554.03 L1234.82 539.74 L1238.21 535.56 L1253.11 530.54 L1268.29 528.76 L1275.52 528.34"/><path d="M1121.52 859.41 L1145.38 851.04 L1152.47 844.42 L1167.58 827.69 L1176.83 805.72 L1182.69 782.37 L1189.48 758.84 L1195.99 735.31 L1200.33 711.6 L1204.59 687.2 L1207.05 669.77 L1211.17 644.67 L1215.51 619.57 L1221.3 594.47 L1229.75 570.77 L1239.01 547.76 L1241.54 539.04 L1256.72 533.12 L1275.52 529.28 L1282.75 528.34"/><path d="M1247.7 528.34 H1477.96" stroke-dasharray="15 9.33" stroke-dashoffset="0" stroke-width="3.5"/></g>
<g fill="none" stroke="#2f72bc" stroke-width="3.25" stroke-linejoin="round"><path d="M1121.3 857.8 L1140.68 851.95 L1160.85 845.22 L1180.08 836.85 L1199.53 824.2 L1219.7 805.72 L1239.88 781.5 L1259.18 750.44 L1278.56 710.21 L1298.66 658.27 L1317.89 609.46 L1337.19 572.51 L1357.22 549.85 L1377.46 538 L1396.77 532.21 L1416.94 529.63 L1437.11 528.94 L1535.8 528.03"/><path d="M1121.3 858.36 L1140.68 854.53 L1160.85 849.44 L1179.36 843.55 L1198.67 836.05 L1218.04 824.2 L1238.21 807.47 L1257.44 784.11 L1277.69 750.44 L1297.07 708.46 L1317.24 658.27 L1336.4 609.46 L1356.42 571.67 L1376.6 549.01 L1395.9 538.59 L1416.07 533.12 L1435.3 530.54 L1455.55 529.28 L1535.8 528.59"/><path d="M1121.3 859.41 L1140.68 857.8 L1160.85 855.29 L1179.36 852.78 L1199.53 849.44 L1219.7 843.55 L1239.88 836.05 L1259.18 825.11 L1278.56 810.95 L1298.66 790.73 L1318.9 763.89 L1338.06 728.68 L1357.22 687.2 L1376.6 636.3 L1396.77 594.47 L1416.94 563.27 L1436.24 546.47 L1456.27 537.3 L1475.79 533.12 L1496.03 530.85 L1535.8 529.28"/><path d="M1121.3 860.45 L1160.85 860.31 L1179.36 859.83 L1199.53 858.71 L1219.7 857.49 L1239.88 855.78 L1259.18 853.13 L1278.56 849.75 L1298.66 844.07 L1318.9 836.85 L1337.91 828.38 L1357.22 815.83 L1377.46 799.1 L1396.77 777.28 L1416.94 747.16 L1436.24 710.21 L1455.55 666.28 L1474.92 619.57 L1495.1 580.18 L1515.27 554.87 L1535.8 540.61"/></g>
</g>
<path d="M1174.3 861.5 v-4.38 M1174.3 512.9 v4.38 M1246.6 861.5 v-4.38 M1246.6 512.9 v4.38 M1318.9 861.5 v-4.38 M1318.9 512.9 v4.38 M1391.2 861.5 v-4.38 M1391.2 512.9 v4.38 M1463.5 861.5 v-4.38 M1463.5 512.9 v4.38 M1102 826.64 h4.38 M1535.8 826.64 h-4.38 M1102 791.78 h4.38 M1535.8 791.78 h-4.38 M1102 756.92 h4.38 M1535.8 756.92 h-4.38 M1102 722.06 h4.38 M1535.8 722.06 h-4.38 M1102 687.2 h4.38 M1535.8 687.2 h-4.38 M1102 652.34 h4.38 M1535.8 652.34 h-4.38 M1102 617.48 h4.38 M1535.8 617.48 h-4.38 M1102 582.62 h4.38 M1535.8 582.62 h-4.38 M1102 547.76 h4.38 M1535.8 547.76 h-4.38" stroke="#747474" stroke-width="1" fill="none"/>
<rect x="1102" y="512.9" width="433.8" height="348.6" fill="none" stroke="#747474" stroke-width="1.2"/>
<g font-family="'Liberation Sans', Arial, Helvetica, sans-serif" font-size="15.14" fill="#2b2b2b">
<g text-anchor="end">
<text x="1095.82" y="867.4">0</text>
<text x="1095.82" y="832.54">0.1</text>
<text x="1095.82" y="797.68">0.2</text>
<text x="1095.82" y="762.82">0.3</text>
<text x="1095.82" y="727.96">0.4</text>
<text x="1095.82" y="693.1">0.5</text>
<text x="1095.82" y="658.24">0.6</text>
<text x="1095.82" y="623.38">0.7</text>
<text x="1095.82" y="588.52">0.8</text>
<text x="1095.82" y="553.66">0.9</text>
<text x="1095.82" y="518.8">1</text>
</g><g text-anchor="middle">
<text x="1102" y="882.02">0</text>
<text x="1174.3" y="882.02">100</text>
<text x="1246.6" y="882.02">200</text>
<text x="1318.9" y="882.02">300</text>
<text x="1391.2" y="882.02">400</text>
<text x="1463.5" y="882.02">500</text>
<text x="1535.8" y="882.02">600</text>
</g></g>
</g>
<text font-family="'Liberation Serif', 'DejaVu Serif', serif" fill="#000" stroke="#000" stroke-width="0.3"><tspan x="86.77 99.75 115.95" y="440.4" font-size="34.44">(a)</tspan> <tspan x="145.21" y="440.4" font-size="31.71" textLength="15.503" lengthAdjust="spacingAndGlyphs" font-style="italic">ρ</tspan> <tspan x="169.57" y="442.96" font-size="34.1" textLength="27.566" lengthAdjust="spacingAndGlyphs">=</tspan> <tspan x="205.7 224.15" y="440.4" font-size="34.61">1,</tspan> <tspan x="243.82 269.05 289.21" y="440.4" font-size="35.7">NSR</tspan><tspan x="313.1" y="442.96" font-size="34.1" textLength="27.566" lengthAdjust="spacingAndGlyphs">=</tspan><tspan x="340.06 357.69 366.59" y="440.4" font-size="34.61">0.0</tspan></text>
<text font-family="'Liberation Serif', 'DejaVu Serif', serif" fill="#000" stroke="#000" stroke-width="0.3"><tspan x="619.97 633.09 651.06" y="440.4" font-size="34.44">(b)</tspan> <tspan x="680.31" y="440.4" font-size="31.71" textLength="15.503" lengthAdjust="spacingAndGlyphs" font-style="italic">ρ</tspan> <tspan x="704.68" y="442.96" font-size="34.1" textLength="27.566" lengthAdjust="spacingAndGlyphs">=</tspan> <tspan x="741.32 759.26" y="440.4" font-size="34.61">2,</tspan> <tspan x="778.93 804.16 824.32" y="440.4" font-size="35.7">NSR</tspan><tspan x="848.21" y="442.96" font-size="34.1" textLength="27.566" lengthAdjust="spacingAndGlyphs">=</tspan><tspan x="875.17 892.79 901.7" y="440.4" font-size="34.61">0.0</tspan></text>
<text font-family="'Liberation Serif', 'DejaVu Serif', serif" fill="#000" stroke="#000" stroke-width="0.3"><tspan x="1156.77 1168.46 1184.04" y="440.4" font-size="34.44">(c)</tspan> <tspan x="1213.3" y="440.4" font-size="31.71" textLength="15.503" lengthAdjust="spacingAndGlyphs" font-style="italic">ρ</tspan> <tspan x="1237.66" y="442.96" font-size="34.1" textLength="27.566" lengthAdjust="spacingAndGlyphs">=</tspan> <tspan x="1274.04 1292.24" y="440.4" font-size="34.61">4,</tspan> <tspan x="1311.91 1337.14 1357.3" y="440.4" font-size="35.7">NSR</tspan><tspan x="1381.19" y="442.96" font-size="34.1" textLength="27.566" lengthAdjust="spacingAndGlyphs">=</tspan><tspan x="1408.15 1425.78 1434.68" y="440.4" font-size="34.61">0.0</tspan></text>
<text font-family="'Liberation Serif', 'DejaVu Serif', serif" fill="#000" stroke="#000" stroke-width="0.3"><tspan x="85.67 98.07 116.76" y="935" font-size="34.44">(d)</tspan> <tspan x="146.01" y="935" font-size="31.71" textLength="15.503" lengthAdjust="spacingAndGlyphs" font-style="italic">ρ</tspan> <tspan x="170.38" y="937.56" font-size="34.1" textLength="27.566" lengthAdjust="spacingAndGlyphs">=</tspan> <tspan x="206.51 224.96" y="935" font-size="34.61">1,</tspan> <tspan x="244.63 269.86 290.02" y="935" font-size="35.7">NSR</tspan><tspan x="313.91" y="937.56" font-size="34.1" textLength="27.566" lengthAdjust="spacingAndGlyphs">=</tspan><tspan x="340.87 358.49 367.07" y="935" font-size="34.61">0.5</tspan></text>
<text font-family="'Liberation Serif', 'DejaVu Serif', serif" fill="#000" stroke="#000" stroke-width="0.3"><tspan x="621.47 633.12 648.74" y="935" font-size="34.44">(e)</tspan> <tspan x="678" y="935" font-size="31.71" textLength="15.503" lengthAdjust="spacingAndGlyphs" font-style="italic">ρ</tspan> <tspan x="702.36" y="937.56" font-size="34.1" textLength="27.566" lengthAdjust="spacingAndGlyphs">=</tspan> <tspan x="739 756.94" y="935" font-size="34.61">2,</tspan> <tspan x="776.61 801.84 822" y="935" font-size="35.7">NSR</tspan><tspan x="845.89" y="937.56" font-size="34.1" textLength="27.566" lengthAdjust="spacingAndGlyphs">=</tspan><tspan x="872.85 890.48 899.05" y="935" font-size="34.61">0.5</tspan></text>
<text font-family="'Liberation Serif', 'DejaVu Serif', serif" fill="#000" stroke="#000" stroke-width="0.3"><tspan x="1157.87 1170.3 1180.44" y="935" font-size="34.44">(f)</tspan> <tspan x="1209.69" y="935" font-size="31.71" textLength="15.503" lengthAdjust="spacingAndGlyphs" font-style="italic">ρ</tspan> <tspan x="1234.06" y="937.56" font-size="34.1" textLength="27.566" lengthAdjust="spacingAndGlyphs">=</tspan> <tspan x="1270.43 1288.64" y="935" font-size="34.61">4,</tspan> <tspan x="1308.3 1333.53 1353.69" y="935" font-size="35.7">NSR</tspan><tspan x="1377.58" y="937.56" font-size="34.1" textLength="27.566" lengthAdjust="spacingAndGlyphs">=</tspan><tspan x="1404.54 1422.17 1430.74" y="935" font-size="34.61">0.5</tspan></text>
<text font-family="'Liberation Serif', 'DejaVu Serif', serif" fill="#000" stroke="#000" stroke-width="0.3"><tspan x="298.07 309.61 327.25" y="1170.7" font-size="34.44">(g)</tspan> <tspan x="354.11 379.34 399.5" y="1170.7" font-size="35.7">NSR</tspan><tspan x="423.39" y="1173.26" font-size="34.1" textLength="27.566" lengthAdjust="spacingAndGlyphs">=</tspan><tspan x="450.36 467.98 476.89" y="1170.7" font-size="34.61">0.0</tspan></text>
<text font-family="'Liberation Serif', 'DejaVu Serif', serif" fill="#000" stroke="#000" stroke-width="0.3"><tspan x="1044.37 1057.15 1075.46" y="1170.7" font-size="34.44">(h)</tspan> <tspan x="1102.32 1127.55 1147.71" y="1170.7" font-size="35.7">NSR</tspan><tspan x="1171.6" y="1173.26" font-size="34.1" textLength="27.566" lengthAdjust="spacingAndGlyphs">=</tspan><tspan x="1198.57 1216.19 1224.77" y="1170.7" font-size="34.61">0.5</tspan></text>
<path d="M43.2 985.6 H757.4 M43.2 1019 H757.4 M43.2 1052.2 H757.4 M43.2 1086 H757.4 M43.2 1119.5 H757.4 M43.8 985.6 V1119.5 M109.6 985.6 V1119.5 M325.7 985.6 V1119.5 M541.5 985.6 V1119.5 M756.8 985.6 V1119.5" stroke="#3c3c3c" stroke-width="1.3" fill="none"/>
<g font-family="'Liberation Serif', 'DejaVu Serif', serif" fill="#000" stroke="#000" stroke-width="0.25">
<text><tspan x="187.86" y="1010" font-size="24.92" textLength="12.184" lengthAdjust="spacingAndGlyphs" font-style="italic">ρ</tspan> <tspan x="207.01" y="1012.01" font-size="26.8" textLength="21.665" lengthAdjust="spacingAndGlyphs">=</tspan> <tspan x="235.41" y="1010" font-size="27.2">1</tspan></text>
<text><tspan x="403.81" y="1010" font-size="24.92" textLength="12.184" lengthAdjust="spacingAndGlyphs" font-style="italic">ρ</tspan> <tspan x="422.96" y="1012.01" font-size="26.8" textLength="21.665" lengthAdjust="spacingAndGlyphs">=</tspan> <tspan x="451.76" y="1010" font-size="27.2">2</tspan></text>
<text><tspan x="619.36" y="1010" font-size="24.92" textLength="12.184" lengthAdjust="spacingAndGlyphs" font-style="italic">ρ</tspan> <tspan x="638.51" y="1012.01" font-size="26.8" textLength="21.665" lengthAdjust="spacingAndGlyphs">=</tspan> <tspan x="667.1" y="1010" font-size="27.2">4</tspan></text>
<text><tspan x="66.47" y="1043.4" font-size="26.53" textLength="12.410" lengthAdjust="spacingAndGlyphs" font-style="italic">λ</tspan><tspan x="79.97" y="1047.42" font-size="19.42" textLength="8.792" lengthAdjust="spacingAndGlyphs">1</tspan></text>
<text><tspan x="126.72 140.58 147.63 161.01 174.19 187.83" y="1043.4" font-size="27.2">0.9739</tspan> <tspan x="207.1" y="1043.4" font-size="30.02" textLength="21.083" lengthAdjust="spacingAndGlyphs">±</tspan> <tspan x="233.92 247.78 254.77 268.17 281.57 294.73" y="1043.4" font-size="27.2">0.0001</tspan></text>
<text><tspan x="342.67 356.53 363.58 376.68 390.38 403.72" y="1043.4" font-size="27.2">0.9690</tspan> <tspan x="423.05" y="1043.4" font-size="30.02" textLength="21.083" lengthAdjust="spacingAndGlyphs">±</tspan> <tspan x="449.87 463.73 470.72 484.12 497.52 510.68" y="1043.4" font-size="27.2">0.0001</tspan></text>
<text><tspan x="558.22 572.08 579.13 592.23 605.63 619.22" y="1043.4" font-size="27.2">0.9664</tspan> <tspan x="638.6" y="1043.4" font-size="30.02" textLength="21.083" lengthAdjust="spacingAndGlyphs">±</tspan> <tspan x="665.42 679.28 686.27 699.67 713.07 726.23" y="1043.4" font-size="27.2">0.0001</tspan></text>
<text><tspan x="66.47" y="1076.6" font-size="26.53" textLength="12.410" lengthAdjust="spacingAndGlyphs" font-style="italic">λ</tspan><tspan x="79.94" y="1080.62" font-size="19.42" textLength="9.359" lengthAdjust="spacingAndGlyphs">2</tspan></text>
<text><tspan x="126.72 140.58 147.63 160.92 174.13 187.53" y="1076.6" font-size="27.2">0.9461</tspan> <tspan x="207.1" y="1076.6" font-size="30.02" textLength="21.083" lengthAdjust="spacingAndGlyphs">±</tspan> <tspan x="233.92 247.78 254.77 268.17 281.57 294.92" y="1076.6" font-size="27.2">0.0004</tspan></text>
<text><tspan x="342.67 356.53 363.58 376.92 390.14 403.78" y="1076.6" font-size="27.2">0.9039</tspan> <tspan x="423.05" y="1076.6" font-size="30.02" textLength="21.083" lengthAdjust="spacingAndGlyphs">±</tspan> <tspan x="449.87 463.73 470.72 484.12 497.52 510.68" y="1076.6" font-size="27.2">0.0001</tspan></text>
<text><tspan x="558.22 572.08 579.01 592.23 605.62 619.27" y="1076.6" font-size="27.2">0.8650</tspan> <tspan x="638.6" y="1076.6" font-size="30.02" textLength="21.083" lengthAdjust="spacingAndGlyphs">±</tspan> <tspan x="665.42 679.28 686.27 699.67 713.07 726.63" y="1076.6" font-size="27.2">0.0002</tspan></text>
<text><tspan x="63.5" y="1110.4" font-size="28.06" textLength="18.511" lengthAdjust="spacingAndGlyphs" font-style="italic" stroke="#fff" stroke-width="0.3">R</tspan><tspan x="82.32" y="1114.42" font-size="19.42" textLength="8.792" lengthAdjust="spacingAndGlyphs">1</tspan></text>
<text><tspan x="126.72 140.58 147.51 160.73 174.32 187.71" y="1110.4" font-size="27.2">0.8648</tspan> <tspan x="207.1" y="1110.4" font-size="30.02" textLength="21.083" lengthAdjust="spacingAndGlyphs">±</tspan> <tspan x="233.92 247.78 254.77 268.17 281.57 295.03" y="1110.4" font-size="27.2">0.0009</tspan></text>
<text><tspan x="342.67 356.53 363.58 376.67 390.27 403.76" y="1110.4" font-size="27.2">0.9547</tspan> <tspan x="423.05" y="1110.4" font-size="30.02" textLength="21.083" lengthAdjust="spacingAndGlyphs">±</tspan> <tspan x="449.87 463.73 470.72 484.12 497.52 510.87" y="1110.4" font-size="27.2">0.0004</tspan></text>
<text><tspan x="558.22 572.08 579.13 592.51 605.93 619.02" y="1110.4" font-size="27.2">0.9795</tspan> <tspan x="638.6" y="1110.4" font-size="30.02" textLength="21.083" lengthAdjust="spacingAndGlyphs">±</tspan> <tspan x="665.42 679.28 686.27 699.67 713.07 726.42" y="1110.4" font-size="27.2">0.0004</tspan></text>
</g>
<path d="M793.7 987.6 H1506.1 M793.7 1021 H1506.1 M793.7 1054.2 H1506.1 M793.7 1087.6 H1506.1 M793.7 1120.8 H1506.1 M794.3 987.6 V1120.8 M859.6 987.6 V1120.8 M1075.2 987.6 V1120.8 M1290.1 987.6 V1120.8 M1505.5 987.6 V1120.8" stroke="#3c3c3c" stroke-width="1.3" fill="none"/>
<g font-family="'Liberation Serif', 'DejaVu Serif', serif" fill="#000" stroke="#000" stroke-width="0.25">
<text><tspan x="937.61" y="1012" font-size="24.92" textLength="12.184" lengthAdjust="spacingAndGlyphs" font-style="italic">ρ</tspan> <tspan x="956.76" y="1014.01" font-size="26.8" textLength="21.665" lengthAdjust="spacingAndGlyphs">=</tspan> <tspan x="985.16" y="1012" font-size="27.2">1</tspan></text>
<text><tspan x="1152.86" y="1012" font-size="24.92" textLength="12.184" lengthAdjust="spacingAndGlyphs" font-style="italic">ρ</tspan> <tspan x="1172.01" y="1014.01" font-size="26.8" textLength="21.665" lengthAdjust="spacingAndGlyphs">=</tspan> <tspan x="1200.81" y="1012" font-size="27.2">2</tspan></text>
<text><tspan x="1368.01" y="1012" font-size="24.92" textLength="12.184" lengthAdjust="spacingAndGlyphs" font-style="italic">ρ</tspan> <tspan x="1387.16" y="1014.01" font-size="26.8" textLength="21.665" lengthAdjust="spacingAndGlyphs">=</tspan> <tspan x="1415.75" y="1012" font-size="27.2">4</tspan></text>
<text><tspan x="816.72" y="1045.4" font-size="26.53" textLength="12.410" lengthAdjust="spacingAndGlyphs" font-style="italic">λ</tspan><tspan x="830.22" y="1049.42" font-size="19.42" textLength="8.792" lengthAdjust="spacingAndGlyphs">1</tspan></text>
<text><tspan x="876.47 890.33 897.38 910.67 923.88 937.56" y="1045.4" font-size="27.2">0.9417</tspan> <tspan x="956.85" y="1045.4" font-size="30.02" textLength="21.083" lengthAdjust="spacingAndGlyphs">±</tspan> <tspan x="983.67 997.53 1004.52 1017.92 1031.08 1044.76" y="1045.4" font-size="27.2">0.0017</tspan></text>
<text><tspan x="1091.72 1105.58 1112.63 1126.13 1139.13 1152.83" y="1045.4" font-size="27.2">0.9269</tspan> <tspan x="1172.1" y="1045.4" font-size="30.02" textLength="21.083" lengthAdjust="spacingAndGlyphs">±</tspan> <tspan x="1198.92 1212.78 1219.77 1233.17 1246.33 1259.97" y="1045.4" font-size="27.2">0.0010</tspan></text>
<text><tspan x="1306.87 1320.73 1327.78 1341.28 1354.52 1368.08" y="1045.4" font-size="27.2">0.9202</tspan> <tspan x="1387.25" y="1045.4" font-size="30.02" textLength="21.083" lengthAdjust="spacingAndGlyphs">±</tspan> <tspan x="1414.07 1427.93 1434.92 1448.32 1461.72 1474.88" y="1045.4" font-size="27.2">0.0006</tspan></text>
<text><tspan x="816.72" y="1078.6" font-size="26.53" textLength="12.410" lengthAdjust="spacingAndGlyphs" font-style="italic">λ</tspan><tspan x="830.19" y="1082.62" font-size="19.42" textLength="9.359" lengthAdjust="spacingAndGlyphs">2</tspan></text>
<text><tspan x="876.47 890.33 897.38 910.88 923.88 937.56" y="1078.6" font-size="27.2">0.9267</tspan> <tspan x="956.85" y="1078.6" font-size="30.02" textLength="21.083" lengthAdjust="spacingAndGlyphs">±</tspan> <tspan x="983.67 997.53 1004.52 1017.92 1031.08 1044.67" y="1078.6" font-size="27.2">0.0014</tspan></text>
<text><tspan x="1091.72 1105.58 1112.51 1126.01 1139.13 1152.59" y="1078.6" font-size="27.2">0.8763</tspan> <tspan x="1172.1" y="1078.6" font-size="30.02" textLength="21.083" lengthAdjust="spacingAndGlyphs">±</tspan> <tspan x="1198.92 1212.78 1219.77 1233.17 1246.33 1259.97" y="1078.6" font-size="27.2">0.0010</tspan></text>
<text><tspan x="1306.87 1320.73 1327.66 1340.94 1354.56 1367.68" y="1078.6" font-size="27.2">0.8371</tspan> <tspan x="1387.25" y="1078.6" font-size="30.02" textLength="21.083" lengthAdjust="spacingAndGlyphs">±</tspan> <tspan x="1414.07 1427.93 1434.92 1448.32 1461.72 1474.87" y="1078.6" font-size="27.2">0.0005</tspan></text>
<text><tspan x="813.75" y="1112" font-size="28.06" textLength="18.511" lengthAdjust="spacingAndGlyphs" font-style="italic" stroke="#fff" stroke-width="0.3">R</tspan><tspan x="832.57" y="1116.02" font-size="19.42" textLength="8.792" lengthAdjust="spacingAndGlyphs">1</tspan></text>
<text><tspan x="876.47 890.33 897.36 910.72 923.94 937.46" y="1112" font-size="27.2">0.7038</tspan> <tspan x="956.85" y="1112" font-size="30.02" textLength="21.083" lengthAdjust="spacingAndGlyphs">±</tspan> <tspan x="983.67 997.53 1004.52 1017.92 1031.14 1044.78" y="1112" font-size="27.2">0.0039</tspan></text>
<text><tspan x="1091.72 1105.58 1112.63 1125.97 1139.32 1152.93" y="1112" font-size="27.2">0.9042</tspan> <tspan x="1172.1" y="1112" font-size="30.02" textLength="21.083" lengthAdjust="spacingAndGlyphs">±</tspan> <tspan x="1198.92 1212.78 1219.77 1233.17 1246.73 1259.97" y="1112" font-size="27.2">0.0020</tspan></text>
<text><tspan x="1306.87 1320.73 1327.78 1340.87 1354.47 1367.68" y="1112" font-size="27.2">0.9541</tspan> <tspan x="1387.25" y="1112" font-size="30.02" textLength="21.083" lengthAdjust="spacingAndGlyphs">±</tspan> <tspan x="1414.07 1427.93 1434.92 1448.32 1461.72 1474.87" y="1112" font-size="27.2">0.0005</tspan></text>
</g>
</svg>
</body>
</html>
